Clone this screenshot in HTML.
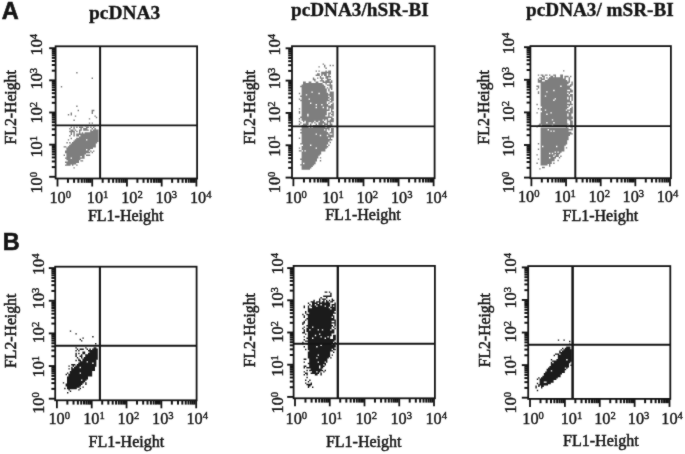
<!DOCTYPE html>
<html><head><meta charset="utf-8"><style>html,body{margin:0;padding:0;background:#fff;}svg{display:block;}</style></head>
<body><svg width="685" height="454" viewBox="0 0 685 454"><style>.t{font-family:'Liberation Serif','Times New Roman',serif;font-size:16.3px;fill:#151515;stroke:#151515;stroke-width:0.4px}
.a{font-family:'Liberation Serif','Times New Roman',serif;font-size:16px;fill:#151515;stroke:#151515;stroke-width:0.5px}
.h{font-family:'Liberation Serif','Times New Roman',serif;font-size:19px;font-weight:bold;fill:#151515;stroke:#151515;stroke-width:0.35px}
.L{font-family:'Liberation Sans',Arial,sans-serif;font-size:23.5px;font-weight:bold;fill:#151515;stroke:#151515;stroke-width:0.6px}</style><defs><filter id="soft" color-interpolation-filters="sRGB" filterUnits="userSpaceOnUse" x="0" y="0" width="685" height="454"><feConvolveMatrix order="3" kernelMatrix="1 2 1 2 24 2 1 2 1" divisor="36" edgeMode="duplicate"/></filter></defs><g filter="url(#soft)"><rect width="685" height="454" fill="#fff"/><path d="M76.2 72h1.4v1.4h-1.4zM91.6 77.6h1.4v1.4h-1.4zM60.8 86h1.4v1.4h-1.4zM76.2 105.6h1.4v1.4h-1.4zM77.6 109.8h1.4v1.4h-1.4zM91.6 109.8h2.8v1.4h-2.8zM91.6 111.2h1.4v1.4h-1.4zM70.6 112.6h1.4v1.4h-1.4zM91.6 112.6h1.4v1.4h-1.4zM67.8 114h1.4v1.4h-1.4zM70.6 114h1.4v1.4h-1.4zM74.8 115.4h1.4v1.4h-1.4zM94.4 115.4h1.4v1.4h-1.4zM95.8 116.8h1.4v1.4h-1.4zM88.8 118.2h1.4v1.4h-1.4zM73.4 119.6h1.4v1.4h-1.4zM88.8 122.4h1.4v1.4h-1.4zM91.6 122.4h1.4v1.4h-1.4zM84.6 125.2h1.4v1.4h-1.4zM94.4 125.2h1.4v1.4h-1.4zM70.6 126.6h1.4v1.4h-1.4zM73.4 126.6h1.4v1.4h-1.4zM76.2 126.6h1.4v1.4h-1.4zM79 126.6h4.2v1.4h-4.2zM86 126.6h2.8v1.4h-2.8zM90.2 126.6h1.4v1.4h-1.4zM93 126.6h1.4v1.4h-1.4zM69.2 128h1.4v1.4h-1.4zM73.4 128h1.4v1.4h-1.4zM80.4 128h1.4v1.4h-1.4zM83.2 128h4.2v1.4h-4.2zM91.6 128h1.4v1.4h-1.4zM94.4 128h1.4v1.4h-1.4zM70.6 129.4h2.8v1.4h-2.8zM74.8 129.4h1.4v1.4h-1.4zM79 129.4h2.8v1.4h-2.8zM83.2 129.4h5.6v1.4h-5.6zM90.2 129.4h1.4v1.4h-1.4zM93 129.4h5.6v1.4h-5.6zM69.2 130.8h5.6v1.4h-5.6zM76.2 130.8h1.4v1.4h-1.4zM79 130.8h1.4v1.4h-1.4zM90.2 130.8h8.4v1.4h-8.4zM70.6 132.2h1.4v1.4h-1.4zM73.4 132.2h1.4v1.4h-1.4zM79 132.2h1.4v1.4h-1.4zM81.8 132.2h1.4v1.4h-1.4zM84.6 132.2h14v1.4h-14zM70.6 133.6h1.4v1.4h-1.4zM73.4 133.6h1.4v1.4h-1.4zM76.2 133.6h22.4v1.4h-22.4zM69.2 135h1.4v1.4h-1.4zM73.4 135h1.4v1.4h-1.4zM76.2 135h2.8v1.4h-2.8zM80.4 135h18.2v1.4h-18.2zM79 136.4h19.6v1.4h-19.6zM70.6 137.8h1.4v1.4h-1.4zM76.2 137.8h22.4v1.4h-22.4zM67.8 139.2h1.4v1.4h-1.4zM74.8 139.2h11.2v1.4h-11.2zM87.4 139.2h11.2v1.4h-11.2zM73.4 140.6h25.2v1.4h-25.2zM66.4 142h1.4v1.4h-1.4zM69.2 142h1.4v1.4h-1.4zM72 142h25.2v1.4h-25.2zM70.6 143.4h25.2v1.4h-25.2zM69.2 144.8h26.6v1.4h-26.6zM63.6 146.2h2.8v1.4h-2.8zM67.8 146.2h28v1.4h-28zM66.4 147.6h26.6v1.4h-26.6zM66.4 149h19.6v1.4h-19.6zM87.4 149h2.8v1.4h-2.8zM65 150.4h23.8v1.4h-23.8zM90.2 150.4h1.4v1.4h-1.4zM93 150.4h1.4v1.4h-1.4zM65 151.8h25.2v1.4h-25.2zM91.6 151.8h1.4v1.4h-1.4zM66.4 153.2h19.6v1.4h-19.6zM63.6 154.6h1.4v1.4h-1.4zM66.4 154.6h18.2v1.4h-18.2zM86 154.6h4.2v1.4h-4.2zM66.4 156h14v1.4h-14zM81.8 156h2.8v1.4h-2.8zM65 157.4h5.6v1.4h-5.6zM72 157.4h12.6v1.4h-12.6zM66.4 158.8h14v1.4h-14zM67.8 160.2h11.2v1.4h-11.2zM80.4 160.2h2.8v1.4h-2.8zM65 161.6h14v1.4h-14zM66.4 163h9.8v1.4h-9.8zM65 164.4h5.6v1.4h-5.6zM72 164.4h1.4v1.4h-1.4zM76.2 164.4h1.4v1.4h-1.4zM73.4 167.2h1.4v1.4h-1.4z" fill="#7e7e7e" /><path d="M322.6 63.4h1.4v1.4h-1.4zM324 64.8h1.4v1.4h-1.4zM329.6 64.8h1.4v1.4h-1.4zM332.4 64.8h1.4v1.4h-1.4zM318.4 66.2h1.4v1.4h-1.4zM324 66.2h1.4v1.4h-1.4zM325.4 67.6h1.4v1.4h-1.4zM315.6 70.4h1.4v1.4h-1.4zM318.4 70.4h1.4v1.4h-1.4zM325.4 70.4h1.4v1.4h-1.4zM328.2 70.4h2.8v1.4h-2.8zM321.2 71.8h9.8v1.4h-9.8zM317 73.2h2.8v1.4h-2.8zM321.2 73.2h5.6v1.4h-5.6zM328.2 73.2h2.8v1.4h-2.8zM315.6 74.6h4.2v1.4h-4.2zM321.2 74.6h1.4v1.4h-1.4zM324 74.6h2.8v1.4h-2.8zM328.2 74.6h1.4v1.4h-1.4zM319.8 76h1.4v1.4h-1.4zM325.4 76h5.6v1.4h-5.6zM312.8 77.4h1.4v1.4h-1.4zM317 77.4h1.4v1.4h-1.4zM319.8 77.4h4.2v1.4h-4.2zM325.4 77.4h2.8v1.4h-2.8zM312.8 78.8h2.8v1.4h-2.8zM321.2 78.8h1.4v1.4h-1.4zM326.8 78.8h4.2v1.4h-4.2zM314.2 80.2h1.4v1.4h-1.4zM319.8 80.2h4.2v1.4h-4.2zM325.4 80.2h4.2v1.4h-4.2zM331 80.2h1.4v1.4h-1.4zM303 81.6h2.8v1.4h-2.8zM308.6 81.6h2.8v1.4h-2.8zM315.6 81.6h2.8v1.4h-2.8zM322.6 81.6h9.8v1.4h-9.8zM303 83h19.6v1.4h-19.6zM325.4 83h1.4v1.4h-1.4zM329.6 83h1.4v1.4h-1.4zM301.6 84.4h22.4v1.4h-22.4zM326.8 84.4h5.6v1.4h-5.6zM300.2 85.8h25.2v1.4h-25.2zM329.6 85.8h2.8v1.4h-2.8zM301.6 87.2h23.8v1.4h-23.8zM326.8 87.2h1.4v1.4h-1.4zM329.6 87.2h2.8v1.4h-2.8zM301.6 88.6h25.2v1.4h-25.2zM328.2 88.6h1.4v1.4h-1.4zM331 88.6h1.4v1.4h-1.4zM301.6 90h25.2v1.4h-25.2zM328.2 90h1.4v1.4h-1.4zM301.6 91.4h9.8v1.4h-9.8zM312.8 91.4h14v1.4h-14zM329.6 91.4h4.2v1.4h-4.2zM298.8 92.8h1.4v1.4h-1.4zM301.6 92.8h16.8v1.4h-16.8zM319.8 92.8h8.4v1.4h-8.4zM329.6 92.8h4.2v1.4h-4.2zM301.6 94.2h4.2v1.4h-4.2zM307.2 94.2h26.6v1.4h-26.6zM300.2 95.6h28v1.4h-28zM329.6 95.6h4.2v1.4h-4.2zM301.6 97h28v1.4h-28zM331 97h2.8v1.4h-2.8zM298.8 98.4h1.4v1.4h-1.4zM301.6 98.4h7v1.4h-7zM310 98.4h18.2v1.4h-18.2zM329.6 98.4h4.2v1.4h-4.2zM300.2 99.8h29.4v1.4h-29.4zM331 99.8h2.8v1.4h-2.8zM301.6 101.2h25.2v1.4h-25.2zM329.6 101.2h2.8v1.4h-2.8zM301.6 102.6h8.4v1.4h-8.4zM311.4 102.6h15.4v1.4h-15.4zM328.2 102.6h1.4v1.4h-1.4zM332.4 102.6h1.4v1.4h-1.4zM301.6 104h14v1.4h-14zM317 104h4.2v1.4h-4.2zM322.6 104h5.6v1.4h-5.6zM331 104h2.8v1.4h-2.8zM301.6 105.4h32.2v1.4h-32.2zM301.6 106.8h14v1.4h-14zM317 106.8h5.6v1.4h-5.6zM324 106.8h2.8v1.4h-2.8zM328.2 106.8h5.6v1.4h-5.6zM298.8 108.2h1.4v1.4h-1.4zM301.6 108.2h25.2v1.4h-25.2zM328.2 108.2h1.4v1.4h-1.4zM331 108.2h2.8v1.4h-2.8zM301.6 109.6h28v1.4h-28zM331 109.6h1.4v1.4h-1.4zM298.8 111h1.4v1.4h-1.4zM301.6 111h25.2v1.4h-25.2zM331 111h2.8v1.4h-2.8zM298.8 112.4h1.4v1.4h-1.4zM301.6 112.4h25.2v1.4h-25.2zM328.2 112.4h2.8v1.4h-2.8zM332.4 112.4h1.4v1.4h-1.4zM301.6 113.8h5.6v1.4h-5.6zM308.6 113.8h18.2v1.4h-18.2zM328.2 113.8h1.4v1.4h-1.4zM331 113.8h2.8v1.4h-2.8zM301.6 115.2h5.6v1.4h-5.6zM308.6 115.2h16.8v1.4h-16.8zM328.2 115.2h1.4v1.4h-1.4zM332.4 115.2h1.4v1.4h-1.4zM300.2 116.6h32.2v1.4h-32.2zM298.8 118h1.4v1.4h-1.4zM301.6 118h26.6v1.4h-26.6zM331 118h2.8v1.4h-2.8zM301.6 119.4h21v1.4h-21zM324 119.4h1.4v1.4h-1.4zM326.8 119.4h1.4v1.4h-1.4zM329.6 119.4h4.2v1.4h-4.2zM298.8 120.8h1.4v1.4h-1.4zM303 120.8h1.4v1.4h-1.4zM305.8 120.8h8.4v1.4h-8.4zM315.6 120.8h2.8v1.4h-2.8zM319.8 120.8h4.2v1.4h-4.2zM326.8 120.8h7v1.4h-7zM300.2 122.2h1.4v1.4h-1.4zM305.8 122.2h2.8v1.4h-2.8zM311.4 122.2h1.4v1.4h-1.4zM314.2 122.2h1.4v1.4h-1.4zM318.4 122.2h7v1.4h-7zM326.8 122.2h1.4v1.4h-1.4zM329.6 122.2h1.4v1.4h-1.4zM298.8 123.6h1.4v1.4h-1.4zM303 123.6h5.6v1.4h-5.6zM310 123.6h1.4v1.4h-1.4zM315.6 123.6h1.4v1.4h-1.4zM318.4 123.6h4.2v1.4h-4.2zM324 123.6h4.2v1.4h-4.2zM329.6 123.6h2.8v1.4h-2.8zM301.6 125h5.6v1.4h-5.6zM310 125h1.4v1.4h-1.4zM312.8 125h12.6v1.4h-12.6zM326.8 125h5.6v1.4h-5.6zM301.6 126.4h7v1.4h-7zM310 126.4h1.4v1.4h-1.4zM312.8 126.4h12.6v1.4h-12.6zM326.8 126.4h4.2v1.4h-4.2zM301.6 127.8h28v1.4h-28zM331 127.8h2.8v1.4h-2.8zM300.2 129.2h23.8v1.4h-23.8zM325.4 129.2h1.4v1.4h-1.4zM328.2 129.2h1.4v1.4h-1.4zM331 129.2h2.8v1.4h-2.8zM301.6 130.6h25.2v1.4h-25.2zM331 130.6h2.8v1.4h-2.8zM300.2 132h28v1.4h-28zM329.6 132h4.2v1.4h-4.2zM301.6 133.4h14v1.4h-14zM317 133.4h12.6v1.4h-12.6zM332.4 133.4h1.4v1.4h-1.4zM301.6 134.8h18.2v1.4h-18.2zM321.2 134.8h5.6v1.4h-5.6zM328.2 134.8h5.6v1.4h-5.6zM301.6 136.2h32.2v1.4h-32.2zM298.8 137.6h1.4v1.4h-1.4zM301.6 137.6h26.6v1.4h-26.6zM329.6 137.6h1.4v1.4h-1.4zM301.6 139h30.8v1.4h-30.8zM301.6 140.4h28v1.4h-28zM301.6 141.8h26.6v1.4h-26.6zM329.6 141.8h1.4v1.4h-1.4zM300.2 143.2h28v1.4h-28zM303 144.6h7v1.4h-7zM311.4 144.6h15.4v1.4h-15.4zM328.2 144.6h1.4v1.4h-1.4zM301.6 146h26.6v1.4h-26.6zM298.8 147.4h1.4v1.4h-1.4zM301.6 147.4h14v1.4h-14zM317 147.4h9.8v1.4h-9.8zM301.6 148.8h23.8v1.4h-23.8zM298.8 150.2h2.8v1.4h-2.8zM303 150.2h1.4v1.4h-1.4zM305.8 150.2h19.6v1.4h-19.6zM301.6 151.6h19.6v1.4h-19.6zM301.6 153h19.6v1.4h-19.6zM301.6 154.4h18.2v1.4h-18.2zM301.6 155.8h16.8v1.4h-16.8zM301.6 157.2h16.8v1.4h-16.8zM319.8 157.2h1.4v1.4h-1.4zM300.2 158.6h16.8v1.4h-16.8zM301.6 160h15.4v1.4h-15.4zM319.8 160h1.4v1.4h-1.4zM301.6 161.4h14v1.4h-14zM301.6 162.8h1.4v1.4h-1.4zM304.4 162.8h11.2v1.4h-11.2zM300.2 164.2h14v1.4h-14zM301.6 165.6h11.2v1.4h-11.2zM301.6 167h9.8v1.4h-9.8zM301.6 168.4h8.4v1.4h-8.4z" fill="#7e7e7e" /><path d="M563 70.2h1.4v1.4h-1.4zM537.8 74.4h1.4v1.4h-1.4zM540.6 74.4h2.8v1.4h-2.8zM544.8 74.4h2.8v1.4h-2.8zM549 74.4h1.4v1.4h-1.4zM553.2 74.4h2.8v1.4h-2.8zM560.2 74.4h2.8v1.4h-2.8zM542 75.8h2.8v1.4h-2.8zM550.4 75.8h2.8v1.4h-2.8zM554.6 75.8h1.4v1.4h-1.4zM560.2 75.8h2.8v1.4h-2.8zM564.4 75.8h4.2v1.4h-4.2zM570 75.8h1.4v1.4h-1.4zM539.2 77.2h2.8v1.4h-2.8zM543.4 77.2h1.4v1.4h-1.4zM546.2 77.2h1.4v1.4h-1.4zM549 77.2h14v1.4h-14zM564.4 77.2h1.4v1.4h-1.4zM568.6 77.2h1.4v1.4h-1.4zM537.8 78.6h1.4v1.4h-1.4zM540.6 78.6h4.2v1.4h-4.2zM547.6 78.6h18.2v1.4h-18.2zM568.6 78.6h1.4v1.4h-1.4zM537.8 80h4.2v1.4h-4.2zM544.8 80h22.4v1.4h-22.4zM568.6 80h1.4v1.4h-1.4zM537.8 81.4h32.2v1.4h-32.2zM571.4 81.4h1.4v1.4h-1.4zM540.6 82.8h28v1.4h-28zM571.4 82.8h1.4v1.4h-1.4zM540.6 84.2h26.6v1.4h-26.6zM570 84.2h2.8v1.4h-2.8zM536.4 85.6h2.8v1.4h-2.8zM540.6 85.6h19.6v1.4h-19.6zM561.6 85.6h9.8v1.4h-9.8zM537.8 87h1.4v1.4h-1.4zM540.6 87h29.4v1.4h-29.4zM536.4 88.4h1.4v1.4h-1.4zM540.6 88.4h30.8v1.4h-30.8zM540.6 89.8h12.6v1.4h-12.6zM554.6 89.8h12.6v1.4h-12.6zM570 89.8h2.8v1.4h-2.8zM537.8 91.2h1.4v1.4h-1.4zM540.6 91.2h5.6v1.4h-5.6zM547.6 91.2h25.2v1.4h-25.2zM537.8 92.6h1.4v1.4h-1.4zM540.6 92.6h26.6v1.4h-26.6zM568.6 92.6h1.4v1.4h-1.4zM540.6 94h28v1.4h-28zM570 94h2.8v1.4h-2.8zM540.6 95.4h4.2v1.4h-4.2zM546.2 95.4h26.6v1.4h-26.6zM540.6 96.8h26.6v1.4h-26.6zM568.6 96.8h1.4v1.4h-1.4zM571.4 96.8h1.4v1.4h-1.4zM540.6 98.2h14v1.4h-14zM556 98.2h11.2v1.4h-11.2zM568.6 98.2h1.4v1.4h-1.4zM571.4 98.2h1.4v1.4h-1.4zM540.6 99.6h12.6v1.4h-12.6zM554.6 99.6h15.4v1.4h-15.4zM571.4 99.6h1.4v1.4h-1.4zM540.6 101h30.8v1.4h-30.8zM540.6 102.4h26.6v1.4h-26.6zM570 102.4h1.4v1.4h-1.4zM536.4 103.8h1.4v1.4h-1.4zM540.6 103.8h32.2v1.4h-32.2zM540.6 105.2h26.6v1.4h-26.6zM568.6 105.2h1.4v1.4h-1.4zM542 106.6h26.6v1.4h-26.6zM571.4 106.6h1.4v1.4h-1.4zM537.8 108h1.4v1.4h-1.4zM540.6 108h26.6v1.4h-26.6zM570 108h2.8v1.4h-2.8zM540.6 109.4h4.2v1.4h-4.2zM546.2 109.4h19.6v1.4h-19.6zM567.2 109.4h5.6v1.4h-5.6zM542 110.8h26.6v1.4h-26.6zM570 110.8h2.8v1.4h-2.8zM536.4 112.2h1.4v1.4h-1.4zM540.6 112.2h9.8v1.4h-9.8zM551.8 112.2h21v1.4h-21zM540.6 113.6h5.6v1.4h-5.6zM547.6 113.6h19.6v1.4h-19.6zM568.6 113.6h2.8v1.4h-2.8zM540.6 115h26.6v1.4h-26.6zM568.6 115h2.8v1.4h-2.8zM540.6 116.4h32.2v1.4h-32.2zM540.6 117.8h32.2v1.4h-32.2zM540.6 119.2h11.2v1.4h-11.2zM553.2 119.2h14v1.4h-14zM568.6 119.2h2.8v1.4h-2.8zM540.6 120.6h26.6v1.4h-26.6zM570 120.6h2.8v1.4h-2.8zM540.6 122h5.6v1.4h-5.6zM547.6 122h5.6v1.4h-5.6zM554.6 122h12.6v1.4h-12.6zM570 122h2.8v1.4h-2.8zM539.2 123.4h29.4v1.4h-29.4zM570 123.4h2.8v1.4h-2.8zM537.8 124.8h2.8v1.4h-2.8zM542 124.8h9.8v1.4h-9.8zM553.2 124.8h14v1.4h-14zM568.6 124.8h4.2v1.4h-4.2zM536.4 126.2h1.4v1.4h-1.4zM565.8 126.2h1.4v1.4h-1.4zM570 126.2h2.8v1.4h-2.8zM540.6 127.6h28v1.4h-28zM571.4 127.6h1.4v1.4h-1.4zM540.6 129h7v1.4h-7zM549 129h23.8v1.4h-23.8zM540.6 130.4h9.8v1.4h-9.8zM551.8 130.4h1.4v1.4h-1.4zM554.6 130.4h14v1.4h-14zM540.6 131.8h30.8v1.4h-30.8zM540.6 133.2h32.2v1.4h-32.2zM540.6 134.6h29.4v1.4h-29.4zM540.6 136h28v1.4h-28zM540.6 137.4h28v1.4h-28zM540.6 138.8h28v1.4h-28zM540.6 140.2h26.6v1.4h-26.6zM540.6 141.6h26.6v1.4h-26.6zM537.8 143h1.4v1.4h-1.4zM540.6 143h26.6v1.4h-26.6zM540.6 144.4h25.2v1.4h-25.2zM540.6 145.8h1.4v1.4h-1.4zM543.4 145.8h12.6v1.4h-12.6zM557.4 145.8h7v1.4h-7zM540.6 147.2h23.8v1.4h-23.8zM565.8 147.2h1.4v1.4h-1.4zM537.8 148.6h1.4v1.4h-1.4zM540.6 148.6h23.8v1.4h-23.8zM540.6 150h23.8v1.4h-23.8zM540.6 151.4h14v1.4h-14zM556 151.4h1.4v1.4h-1.4zM558.8 151.4h2.8v1.4h-2.8zM540.6 152.8h8.4v1.4h-8.4zM550.4 152.8h1.4v1.4h-1.4zM553.2 152.8h7v1.4h-7zM536.4 154.2h1.4v1.4h-1.4zM540.6 154.2h14v1.4h-14zM556 154.2h2.8v1.4h-2.8zM540.6 155.6h12.6v1.4h-12.6zM554.6 155.6h4.2v1.4h-4.2zM560.2 155.6h1.4v1.4h-1.4zM540.6 157h8.4v1.4h-8.4zM550.4 157h5.6v1.4h-5.6zM558.8 157h1.4v1.4h-1.4zM537.8 158.4h1.4v1.4h-1.4zM540.6 158.4h14v1.4h-14zM540.6 159.8h14v1.4h-14zM557.4 159.8h1.4v1.4h-1.4zM540.6 161.2h11.2v1.4h-11.2zM536.4 162.6h1.4v1.4h-1.4zM540.6 162.6h11.2v1.4h-11.2zM553.2 162.6h1.4v1.4h-1.4zM540.6 164h7v1.4h-7zM549 164h1.4v1.4h-1.4zM549 165.4h1.4v1.4h-1.4zM542 166.8h2.8v1.4h-2.8zM539.2 168.2h1.4v1.4h-1.4z" fill="#7e7e7e" /><path d="M69.8 330.4h1.4v1.4h-1.4zM75.4 333.2h1.4v1.4h-1.4zM92.2 336h1.4v1.4h-1.4zM82.4 337.4h1.4v1.4h-1.4zM79.6 338.8h1.4v1.4h-1.4zM81 340.2h1.4v1.4h-1.4zM95 343h1.4v1.4h-1.4zM75.4 347.2h1.4v1.4h-1.4zM85.2 347.2h1.4v1.4h-1.4zM93.6 347.2h2.8v1.4h-2.8zM76.8 348.6h1.4v1.4h-1.4zM79.6 348.6h4.2v1.4h-4.2zM86.6 348.6h1.4v1.4h-1.4zM89.4 348.6h1.4v1.4h-1.4zM92.2 348.6h5.6v1.4h-5.6zM75.4 350h1.4v1.4h-1.4zM78.2 350h1.4v1.4h-1.4zM88 350h9.8v1.4h-9.8zM82.4 351.4h2.8v1.4h-2.8zM89.4 351.4h8.4v1.4h-8.4zM75.4 352.8h1.4v1.4h-1.4zM78.2 352.8h1.4v1.4h-1.4zM82.4 352.8h2.8v1.4h-2.8zM88 352.8h9.8v1.4h-9.8zM75.4 354.2h1.4v1.4h-1.4zM81 354.2h1.4v1.4h-1.4zM85.2 354.2h12.6v1.4h-12.6zM75.4 355.6h1.4v1.4h-1.4zM79.6 355.6h2.8v1.4h-2.8zM85.2 355.6h12.6v1.4h-12.6zM76.8 357h1.4v1.4h-1.4zM81 357h1.4v1.4h-1.4zM83.8 357h14v1.4h-14zM78.2 358.4h1.4v1.4h-1.4zM82.4 358.4h15.4v1.4h-15.4zM75.4 359.8h1.4v1.4h-1.4zM78.2 359.8h2.8v1.4h-2.8zM82.4 359.8h14v1.4h-14zM79.6 361.2h7v1.4h-7zM88 361.2h8.4v1.4h-8.4zM78.2 362.6h14v1.4h-14zM93.6 362.6h2.8v1.4h-2.8zM71.2 364h4.2v1.4h-4.2zM76.8 364h19.6v1.4h-19.6zM68.4 365.4h1.4v1.4h-1.4zM72.6 365.4h1.4v1.4h-1.4zM75.4 365.4h21v1.4h-21zM71.2 366.8h1.4v1.4h-1.4zM74 366.8h5.6v1.4h-5.6zM81 366.8h14v1.4h-14zM68.4 368.2h1.4v1.4h-1.4zM71.2 368.2h23.8v1.4h-23.8zM71.2 369.6h23.8v1.4h-23.8zM69.8 371h22.4v1.4h-22.4zM67 372.4h1.4v1.4h-1.4zM69.8 372.4h9.8v1.4h-9.8zM81 372.4h11.2v1.4h-11.2zM65.6 373.8h1.4v1.4h-1.4zM68.4 373.8h23.8v1.4h-23.8zM68.4 375.2h23.8v1.4h-23.8zM67 376.6h21v1.4h-21zM67 378h21v1.4h-21zM67 379.4h14v1.4h-14zM82.4 379.4h4.2v1.4h-4.2zM67 380.8h18.2v1.4h-18.2zM62.8 382.2h1.4v1.4h-1.4zM67 382.2h16.8v1.4h-16.8zM85.2 382.2h1.4v1.4h-1.4zM65.6 383.6h16.8v1.4h-16.8zM85.2 383.6h1.4v1.4h-1.4zM65.6 385h15.4v1.4h-15.4zM67 386.4h12.6v1.4h-12.6zM82.4 386.4h1.4v1.4h-1.4zM64.2 387.8h1.4v1.4h-1.4zM67 387.8h9.8v1.4h-9.8zM79.6 387.8h1.4v1.4h-1.4zM68.4 389.2h1.4v1.4h-1.4zM78.2 389.2h1.4v1.4h-1.4zM69.8 390.6h1.4v1.4h-1.4zM67 392h1.4v1.4h-1.4z" fill="#1b1b1b" /><path d="M324.6 291.4h2.8v1.4h-2.8zM328.8 291.4h1.4v1.4h-1.4zM330.2 292.8h1.4v1.4h-1.4zM330.2 294.2h1.4v1.4h-1.4zM323.2 295.6h8.4v1.4h-8.4zM320.4 297h1.4v1.4h-1.4zM326 297h1.4v1.4h-1.4zM319 298.4h1.4v1.4h-1.4zM321.8 298.4h4.2v1.4h-4.2zM331.6 298.4h1.4v1.4h-1.4zM313.4 299.8h1.4v1.4h-1.4zM319 299.8h1.4v1.4h-1.4zM323.2 299.8h1.4v1.4h-1.4zM326 299.8h1.4v1.4h-1.4zM328.8 299.8h1.4v1.4h-1.4zM331.6 299.8h2.8v1.4h-2.8zM310.6 301.2h4.2v1.4h-4.2zM316.2 301.2h4.2v1.4h-4.2zM321.8 301.2h2.8v1.4h-2.8zM326 301.2h2.8v1.4h-2.8zM330.2 301.2h2.8v1.4h-2.8zM307.8 302.6h1.4v1.4h-1.4zM312 302.6h5.6v1.4h-5.6zM319 302.6h11.2v1.4h-11.2zM334.4 302.6h1.4v1.4h-1.4zM309.2 304h1.4v1.4h-1.4zM312 304h2.8v1.4h-2.8zM316.2 304h4.2v1.4h-4.2zM321.8 304h8.4v1.4h-8.4zM331.6 304h4.2v1.4h-4.2zM303.6 305.4h1.4v1.4h-1.4zM307.8 305.4h1.4v1.4h-1.4zM310.6 305.4h5.6v1.4h-5.6zM317.6 305.4h7v1.4h-7zM326 305.4h4.2v1.4h-4.2zM331.6 305.4h1.4v1.4h-1.4zM334.4 305.4h1.4v1.4h-1.4zM303.6 306.8h1.4v1.4h-1.4zM307.8 306.8h1.4v1.4h-1.4zM312 306.8h16.8v1.4h-16.8zM330.2 306.8h5.6v1.4h-5.6zM307.8 308.2h22.4v1.4h-22.4zM331.6 308.2h4.2v1.4h-4.2zM307.8 309.6h28v1.4h-28zM305 311h1.4v1.4h-1.4zM307.8 311h26.6v1.4h-26.6zM305 312.4h1.4v1.4h-1.4zM309.2 312.4h26.6v1.4h-26.6zM302.2 313.8h1.4v1.4h-1.4zM306.4 313.8h26.6v1.4h-26.6zM303.6 315.2h1.4v1.4h-1.4zM307.8 315.2h26.6v1.4h-26.6zM303.6 316.6h1.4v1.4h-1.4zM307.8 316.6h23.8v1.4h-23.8zM333 316.6h1.4v1.4h-1.4zM306.4 318h28v1.4h-28zM305 319.4h1.4v1.4h-1.4zM307.8 319.4h28v1.4h-28zM303.6 320.8h1.4v1.4h-1.4zM307.8 320.8h23.8v1.4h-23.8zM334.4 320.8h1.4v1.4h-1.4zM302.2 322.2h2.8v1.4h-2.8zM307.8 322.2h28v1.4h-28zM302.2 323.6h1.4v1.4h-1.4zM307.8 323.6h23.8v1.4h-23.8zM334.4 323.6h1.4v1.4h-1.4zM306.4 325h26.6v1.4h-26.6zM334.4 325h1.4v1.4h-1.4zM303.6 326.4h1.4v1.4h-1.4zM307.8 326.4h4.2v1.4h-4.2zM313.4 326.4h18.2v1.4h-18.2zM333 326.4h1.4v1.4h-1.4zM302.2 327.8h1.4v1.4h-1.4zM306.4 327.8h25.2v1.4h-25.2zM334.4 327.8h1.4v1.4h-1.4zM303.6 329.2h1.4v1.4h-1.4zM306.4 329.2h2.8v1.4h-2.8zM310.6 329.2h7v1.4h-7zM319 329.2h2.8v1.4h-2.8zM323.2 329.2h7v1.4h-7zM331.6 329.2h2.8v1.4h-2.8zM303.6 330.6h1.4v1.4h-1.4zM306.4 330.6h28v1.4h-28zM302.2 332h2.8v1.4h-2.8zM307.8 332h26.6v1.4h-26.6zM305 333.4h1.4v1.4h-1.4zM307.8 333.4h11.2v1.4h-11.2zM320.4 333.4h11.2v1.4h-11.2zM307.8 334.8h7v1.4h-7zM316.2 334.8h15.4v1.4h-15.4zM333 334.8h2.8v1.4h-2.8zM303.6 336.2h1.4v1.4h-1.4zM307.8 336.2h12.6v1.4h-12.6zM321.8 336.2h5.6v1.4h-5.6zM328.8 336.2h1.4v1.4h-1.4zM333 336.2h2.8v1.4h-2.8zM306.4 337.6h5.6v1.4h-5.6zM313.4 337.6h11.2v1.4h-11.2zM326 337.6h4.2v1.4h-4.2zM333 337.6h2.8v1.4h-2.8zM303.6 339h1.4v1.4h-1.4zM307.8 339h28v1.4h-28zM305 340.4h29.4v1.4h-29.4zM302.2 341.8h1.4v1.4h-1.4zM307.8 341.8h25.2v1.4h-25.2zM334.4 341.8h1.4v1.4h-1.4zM302.2 343.2h1.4v1.4h-1.4zM306.4 343.2h25.2v1.4h-25.2zM333 343.2h1.4v1.4h-1.4zM307.8 344.6h12.6v1.4h-12.6zM321.8 344.6h14v1.4h-14zM303.6 346h1.4v1.4h-1.4zM307.8 346h8.4v1.4h-8.4zM317.6 346h18.2v1.4h-18.2zM307.8 347.4h26.6v1.4h-26.6zM305 348.8h1.4v1.4h-1.4zM307.8 348.8h23.8v1.4h-23.8zM333 348.8h2.8v1.4h-2.8zM309.2 350.2h23.8v1.4h-23.8zM307.8 351.6h22.4v1.4h-22.4zM333 351.6h1.4v1.4h-1.4zM307.8 353h22.4v1.4h-22.4zM307.8 354.4h9.8v1.4h-9.8zM319 354.4h11.2v1.4h-11.2zM331.6 354.4h1.4v1.4h-1.4zM307.8 355.8h22.4v1.4h-22.4zM307.8 357.2h8.4v1.4h-8.4zM317.6 357.2h11.2v1.4h-11.2zM330.2 357.2h1.4v1.4h-1.4zM303.6 358.6h2.8v1.4h-2.8zM309.2 358.6h18.2v1.4h-18.2zM309.2 360h18.2v1.4h-18.2zM303.6 361.4h1.4v1.4h-1.4zM309.2 361.4h8.4v1.4h-8.4zM319 361.4h5.6v1.4h-5.6zM326 361.4h1.4v1.4h-1.4zM307.8 362.8h18.2v1.4h-18.2zM309.2 364.2h14v1.4h-14zM324.6 364.2h1.4v1.4h-1.4zM303.6 365.6h2.8v1.4h-2.8zM309.2 365.6h9.8v1.4h-9.8zM320.4 365.6h4.2v1.4h-4.2zM303.6 367h1.4v1.4h-1.4zM306.4 367h12.6v1.4h-12.6zM320.4 367h2.8v1.4h-2.8zM310.6 368.4h11.2v1.4h-11.2zM306.4 369.8h1.4v1.4h-1.4zM309.2 369.8h14v1.4h-14zM324.6 369.8h1.4v1.4h-1.4zM303.6 371.2h1.4v1.4h-1.4zM312 371.2h4.2v1.4h-4.2zM317.6 371.2h2.8v1.4h-2.8zM323.2 371.2h1.4v1.4h-1.4zM305 372.6h2.8v1.4h-2.8zM310.6 372.6h8.4v1.4h-8.4zM320.4 372.6h1.4v1.4h-1.4zM303.6 374h1.4v1.4h-1.4zM306.4 374h1.4v1.4h-1.4zM314.8 374h2.8v1.4h-2.8zM320.4 374h1.4v1.4h-1.4zM306.4 376.8h1.4v1.4h-1.4zM305 379.6h1.4v1.4h-1.4zM309.2 379.6h1.4v1.4h-1.4zM307.8 381h1.4v1.4h-1.4zM305 382.4h1.4v1.4h-1.4zM310.6 382.4h1.4v1.4h-1.4zM306.4 383.8h5.6v1.4h-5.6zM307.8 385.2h2.8v1.4h-2.8zM307.8 386.6h1.4v1.4h-1.4zM312 386.6h1.4v1.4h-1.4z" fill="#1b1b1b" /><path d="M557.8 339.4h1.4v1.4h-1.4zM563.4 339.4h1.4v1.4h-1.4zM569 340.8h1.4v1.4h-1.4zM569 343.6h1.4v1.4h-1.4zM566.2 346.4h4.2v1.4h-4.2zM562 347.8h1.4v1.4h-1.4zM564.8 347.8h5.6v1.4h-5.6zM560.6 349.2h1.4v1.4h-1.4zM563.4 349.2h8.4v1.4h-8.4zM559.2 350.6h1.4v1.4h-1.4zM562 350.6h9.8v1.4h-9.8zM559.2 352h12.6v1.4h-12.6zM555 353.4h4.2v1.4h-4.2zM560.6 353.4h11.2v1.4h-11.2zM553.6 354.8h1.4v1.4h-1.4zM557.8 354.8h14v1.4h-14zM557.8 356.2h14v1.4h-14zM557.8 357.6h14v1.4h-14zM550.8 359h1.4v1.4h-1.4zM556.4 359h9.8v1.4h-9.8zM567.6 359h4.2v1.4h-4.2zM552.2 360.4h19.6v1.4h-19.6zM550.8 361.8h1.4v1.4h-1.4zM553.6 361.8h16.8v1.4h-16.8zM550.8 363.2h18.2v1.4h-18.2zM550.8 364.6h18.2v1.4h-18.2zM570.4 364.6h1.4v1.4h-1.4zM549.4 366h19.6v1.4h-19.6zM548 367.4h16.8v1.4h-16.8zM566.2 367.4h1.4v1.4h-1.4zM546.6 368.8h19.6v1.4h-19.6zM546.6 370.2h4.2v1.4h-4.2zM552.2 370.2h12.6v1.4h-12.6zM545.2 371.6h19.6v1.4h-19.6zM543.8 373h18.2v1.4h-18.2zM543.8 374.4h16.8v1.4h-16.8zM542.4 375.8h18.2v1.4h-18.2zM538.2 377.2h1.4v1.4h-1.4zM541 377.2h16.8v1.4h-16.8zM536.8 378.6h1.4v1.4h-1.4zM539.6 378.6h16.8v1.4h-16.8zM539.6 380h14v1.4h-14zM539.6 381.4h4.2v1.4h-4.2zM546.6 381.4h7v1.4h-7zM536.8 382.8h1.4v1.4h-1.4zM539.6 382.8h11.2v1.4h-11.2zM538.2 384.2h9.8v1.4h-9.8zM535.4 385.6h1.4v1.4h-1.4zM538.2 385.6h1.4v1.4h-1.4zM541 385.6h2.8v1.4h-2.8zM535.4 387h1.4v1.4h-1.4zM541 387h1.4v1.4h-1.4zM536.8 389.8h1.4v1.4h-1.4z" fill="#1b1b1b" /><line x1="67.95" y1="178.50" x2="67.95" y2="182.80" stroke="#151515" stroke-width="2.0"/><line x1="74.07" y1="178.50" x2="74.07" y2="182.80" stroke="#151515" stroke-width="2.0"/><line x1="78.41" y1="178.50" x2="78.41" y2="182.80" stroke="#151515" stroke-width="2.0"/><line x1="81.77" y1="178.50" x2="81.77" y2="182.80" stroke="#151515" stroke-width="2.0"/><line x1="84.52" y1="178.50" x2="84.52" y2="182.80" stroke="#151515" stroke-width="2.0"/><line x1="86.85" y1="178.50" x2="86.85" y2="182.80" stroke="#151515" stroke-width="2.0"/><line x1="88.86" y1="178.50" x2="88.86" y2="182.80" stroke="#151515" stroke-width="2.0"/><line x1="90.64" y1="178.50" x2="90.64" y2="182.80" stroke="#151515" stroke-width="2.0"/><line x1="102.68" y1="178.50" x2="102.68" y2="182.80" stroke="#151515" stroke-width="2.0"/><line x1="108.79" y1="178.50" x2="108.79" y2="182.80" stroke="#151515" stroke-width="2.0"/><line x1="113.13" y1="178.50" x2="113.13" y2="182.80" stroke="#151515" stroke-width="2.0"/><line x1="116.50" y1="178.50" x2="116.50" y2="182.80" stroke="#151515" stroke-width="2.0"/><line x1="119.25" y1="178.50" x2="119.25" y2="182.80" stroke="#151515" stroke-width="2.0"/><line x1="121.57" y1="178.50" x2="121.57" y2="182.80" stroke="#151515" stroke-width="2.0"/><line x1="123.58" y1="178.50" x2="123.58" y2="182.80" stroke="#151515" stroke-width="2.0"/><line x1="125.36" y1="178.50" x2="125.36" y2="182.80" stroke="#151515" stroke-width="2.0"/><line x1="137.40" y1="178.50" x2="137.40" y2="182.80" stroke="#151515" stroke-width="2.0"/><line x1="143.52" y1="178.50" x2="143.52" y2="182.80" stroke="#151515" stroke-width="2.0"/><line x1="147.86" y1="178.50" x2="147.86" y2="182.80" stroke="#151515" stroke-width="2.0"/><line x1="151.22" y1="178.50" x2="151.22" y2="182.80" stroke="#151515" stroke-width="2.0"/><line x1="153.97" y1="178.50" x2="153.97" y2="182.80" stroke="#151515" stroke-width="2.0"/><line x1="156.30" y1="178.50" x2="156.30" y2="182.80" stroke="#151515" stroke-width="2.0"/><line x1="158.31" y1="178.50" x2="158.31" y2="182.80" stroke="#151515" stroke-width="2.0"/><line x1="160.09" y1="178.50" x2="160.09" y2="182.80" stroke="#151515" stroke-width="2.0"/><line x1="172.13" y1="178.50" x2="172.13" y2="182.80" stroke="#151515" stroke-width="2.0"/><line x1="178.24" y1="178.50" x2="178.24" y2="182.80" stroke="#151515" stroke-width="2.0"/><line x1="182.58" y1="178.50" x2="182.58" y2="182.80" stroke="#151515" stroke-width="2.0"/><line x1="185.95" y1="178.50" x2="185.95" y2="182.80" stroke="#151515" stroke-width="2.0"/><line x1="188.70" y1="178.50" x2="188.70" y2="182.80" stroke="#151515" stroke-width="2.0"/><line x1="191.02" y1="178.50" x2="191.02" y2="182.80" stroke="#151515" stroke-width="2.0"/><line x1="193.03" y1="178.50" x2="193.03" y2="182.80" stroke="#151515" stroke-width="2.0"/><line x1="194.81" y1="178.50" x2="194.81" y2="182.80" stroke="#151515" stroke-width="2.0"/><line x1="57.50" y1="178.50" x2="57.50" y2="186.50" stroke="#151515" stroke-width="1.8"/><line x1="92.22" y1="178.50" x2="92.22" y2="186.50" stroke="#151515" stroke-width="1.8"/><line x1="126.95" y1="178.50" x2="126.95" y2="186.50" stroke="#151515" stroke-width="1.8"/><line x1="161.68" y1="178.50" x2="161.68" y2="186.50" stroke="#151515" stroke-width="1.8"/><line x1="196.40" y1="178.50" x2="196.40" y2="186.50" stroke="#151515" stroke-width="1.8"/><line x1="55.60" y1="167.12" x2="51.80" y2="167.12" stroke="#151515" stroke-width="2.0"/><line x1="55.60" y1="161.46" x2="51.80" y2="161.46" stroke="#151515" stroke-width="2.0"/><line x1="55.60" y1="157.44" x2="51.80" y2="157.44" stroke="#151515" stroke-width="2.0"/><line x1="55.60" y1="154.33" x2="51.80" y2="154.33" stroke="#151515" stroke-width="2.0"/><line x1="55.60" y1="151.78" x2="51.80" y2="151.78" stroke="#151515" stroke-width="2.0"/><line x1="55.60" y1="149.63" x2="51.80" y2="149.63" stroke="#151515" stroke-width="2.0"/><line x1="55.60" y1="147.77" x2="51.80" y2="147.77" stroke="#151515" stroke-width="2.0"/><line x1="55.60" y1="146.12" x2="51.80" y2="146.12" stroke="#151515" stroke-width="2.0"/><line x1="55.60" y1="134.97" x2="51.80" y2="134.97" stroke="#151515" stroke-width="2.0"/><line x1="55.60" y1="129.31" x2="51.80" y2="129.31" stroke="#151515" stroke-width="2.0"/><line x1="55.60" y1="125.29" x2="51.80" y2="125.29" stroke="#151515" stroke-width="2.0"/><line x1="55.60" y1="122.18" x2="51.80" y2="122.18" stroke="#151515" stroke-width="2.0"/><line x1="55.60" y1="119.63" x2="51.80" y2="119.63" stroke="#151515" stroke-width="2.0"/><line x1="55.60" y1="117.48" x2="51.80" y2="117.48" stroke="#151515" stroke-width="2.0"/><line x1="55.60" y1="115.62" x2="51.80" y2="115.62" stroke="#151515" stroke-width="2.0"/><line x1="55.60" y1="113.97" x2="51.80" y2="113.97" stroke="#151515" stroke-width="2.0"/><line x1="55.60" y1="102.82" x2="51.80" y2="102.82" stroke="#151515" stroke-width="2.0"/><line x1="55.60" y1="97.16" x2="51.80" y2="97.16" stroke="#151515" stroke-width="2.0"/><line x1="55.60" y1="93.14" x2="51.80" y2="93.14" stroke="#151515" stroke-width="2.0"/><line x1="55.60" y1="90.03" x2="51.80" y2="90.03" stroke="#151515" stroke-width="2.0"/><line x1="55.60" y1="87.48" x2="51.80" y2="87.48" stroke="#151515" stroke-width="2.0"/><line x1="55.60" y1="85.33" x2="51.80" y2="85.33" stroke="#151515" stroke-width="2.0"/><line x1="55.60" y1="83.47" x2="51.80" y2="83.47" stroke="#151515" stroke-width="2.0"/><line x1="55.60" y1="81.82" x2="51.80" y2="81.82" stroke="#151515" stroke-width="2.0"/><line x1="55.60" y1="70.67" x2="51.80" y2="70.67" stroke="#151515" stroke-width="2.0"/><line x1="55.60" y1="65.01" x2="51.80" y2="65.01" stroke="#151515" stroke-width="2.0"/><line x1="55.60" y1="60.99" x2="51.80" y2="60.99" stroke="#151515" stroke-width="2.0"/><line x1="55.60" y1="57.88" x2="51.80" y2="57.88" stroke="#151515" stroke-width="2.0"/><line x1="55.60" y1="55.33" x2="51.80" y2="55.33" stroke="#151515" stroke-width="2.0"/><line x1="55.60" y1="53.18" x2="51.80" y2="53.18" stroke="#151515" stroke-width="2.0"/><line x1="55.60" y1="51.32" x2="51.80" y2="51.32" stroke="#151515" stroke-width="2.0"/><line x1="55.60" y1="49.67" x2="51.80" y2="49.67" stroke="#151515" stroke-width="2.0"/><line x1="55.60" y1="176.80" x2="49.20" y2="176.80" stroke="#151515" stroke-width="1.9"/><line x1="55.60" y1="144.65" x2="49.20" y2="144.65" stroke="#151515" stroke-width="1.9"/><line x1="55.60" y1="112.50" x2="49.20" y2="112.50" stroke="#151515" stroke-width="1.9"/><line x1="55.60" y1="80.35" x2="49.20" y2="80.35" stroke="#151515" stroke-width="1.9"/><line x1="55.60" y1="48.20" x2="49.20" y2="48.20" stroke="#151515" stroke-width="1.9"/><rect x="55.60" y="46.30" width="141.50" height="132.20" fill="none" stroke="#151515" stroke-width="1.8"/><line x1="100.10" y1="46.30" x2="100.10" y2="178.50" stroke="#151515" stroke-width="2.0"/><line x1="55.60" y1="125.40" x2="197.10" y2="125.40" stroke="#151515" stroke-width="1.7"/><text x="49.48" y="203.00" class="t">10<tspan font-size="10.6" dy="-5.0">0</tspan></text><text x="86.78" y="203.00" class="t">10<tspan font-size="10.6" dy="-5.0">1</tspan></text><text x="121.14" y="203.00" class="t">10<tspan font-size="10.6" dy="-5.0">2</tspan></text><text x="155.51" y="203.00" class="t">10<tspan font-size="10.6" dy="-5.0">3</tspan></text><text x="189.88" y="203.00" class="t">10<tspan font-size="10.6" dy="-5.0">4</tspan></text><text transform="translate(41.60,193.62) rotate(-90)" class="t">10<tspan font-size="10.6" dy="-5.0">0</tspan></text><text transform="translate(41.60,157.53) rotate(-90)" class="t">10<tspan font-size="10.6" dy="-5.0">1</tspan></text><text transform="translate(41.60,123.51) rotate(-90)" class="t">10<tspan font-size="10.6" dy="-5.0">2</tspan></text><text transform="translate(41.60,89.49) rotate(-90)" class="t">10<tspan font-size="10.6" dy="-5.0">3</tspan></text><text transform="translate(41.60,55.48) rotate(-90)" class="t">10<tspan font-size="10.6" dy="-5.0">4</tspan></text><text x="87.90" y="220.60" class="a" textLength="75.6" lengthAdjust="spacingAndGlyphs">FL1-Height</text><text transform="translate(15.90,144.40) rotate(-90)" class="a" textLength="74.2" lengthAdjust="spacingAndGlyphs">FL2-Height</text><line x1="303.95" y1="178.20" x2="303.95" y2="182.50" stroke="#151515" stroke-width="2.0"/><line x1="310.12" y1="178.20" x2="310.12" y2="182.50" stroke="#151515" stroke-width="2.0"/><line x1="314.50" y1="178.20" x2="314.50" y2="182.50" stroke="#151515" stroke-width="2.0"/><line x1="317.90" y1="178.20" x2="317.90" y2="182.50" stroke="#151515" stroke-width="2.0"/><line x1="320.67" y1="178.20" x2="320.67" y2="182.50" stroke="#151515" stroke-width="2.0"/><line x1="323.02" y1="178.20" x2="323.02" y2="182.50" stroke="#151515" stroke-width="2.0"/><line x1="325.05" y1="178.20" x2="325.05" y2="182.50" stroke="#151515" stroke-width="2.0"/><line x1="326.85" y1="178.20" x2="326.85" y2="182.50" stroke="#151515" stroke-width="2.0"/><line x1="339.00" y1="178.20" x2="339.00" y2="182.50" stroke="#151515" stroke-width="2.0"/><line x1="345.17" y1="178.20" x2="345.17" y2="182.50" stroke="#151515" stroke-width="2.0"/><line x1="349.55" y1="178.20" x2="349.55" y2="182.50" stroke="#151515" stroke-width="2.0"/><line x1="352.95" y1="178.20" x2="352.95" y2="182.50" stroke="#151515" stroke-width="2.0"/><line x1="355.72" y1="178.20" x2="355.72" y2="182.50" stroke="#151515" stroke-width="2.0"/><line x1="358.07" y1="178.20" x2="358.07" y2="182.50" stroke="#151515" stroke-width="2.0"/><line x1="360.10" y1="178.20" x2="360.10" y2="182.50" stroke="#151515" stroke-width="2.0"/><line x1="361.90" y1="178.20" x2="361.90" y2="182.50" stroke="#151515" stroke-width="2.0"/><line x1="374.05" y1="178.20" x2="374.05" y2="182.50" stroke="#151515" stroke-width="2.0"/><line x1="380.22" y1="178.20" x2="380.22" y2="182.50" stroke="#151515" stroke-width="2.0"/><line x1="384.60" y1="178.20" x2="384.60" y2="182.50" stroke="#151515" stroke-width="2.0"/><line x1="388.00" y1="178.20" x2="388.00" y2="182.50" stroke="#151515" stroke-width="2.0"/><line x1="390.77" y1="178.20" x2="390.77" y2="182.50" stroke="#151515" stroke-width="2.0"/><line x1="393.12" y1="178.20" x2="393.12" y2="182.50" stroke="#151515" stroke-width="2.0"/><line x1="395.15" y1="178.20" x2="395.15" y2="182.50" stroke="#151515" stroke-width="2.0"/><line x1="396.95" y1="178.20" x2="396.95" y2="182.50" stroke="#151515" stroke-width="2.0"/><line x1="409.10" y1="178.20" x2="409.10" y2="182.50" stroke="#151515" stroke-width="2.0"/><line x1="415.27" y1="178.20" x2="415.27" y2="182.50" stroke="#151515" stroke-width="2.0"/><line x1="419.65" y1="178.20" x2="419.65" y2="182.50" stroke="#151515" stroke-width="2.0"/><line x1="423.05" y1="178.20" x2="423.05" y2="182.50" stroke="#151515" stroke-width="2.0"/><line x1="425.82" y1="178.20" x2="425.82" y2="182.50" stroke="#151515" stroke-width="2.0"/><line x1="428.17" y1="178.20" x2="428.17" y2="182.50" stroke="#151515" stroke-width="2.0"/><line x1="430.20" y1="178.20" x2="430.20" y2="182.50" stroke="#151515" stroke-width="2.0"/><line x1="432.00" y1="178.20" x2="432.00" y2="182.50" stroke="#151515" stroke-width="2.0"/><line x1="293.40" y1="178.20" x2="293.40" y2="186.20" stroke="#151515" stroke-width="1.8"/><line x1="328.45" y1="178.20" x2="328.45" y2="186.20" stroke="#151515" stroke-width="1.8"/><line x1="363.50" y1="178.20" x2="363.50" y2="186.20" stroke="#151515" stroke-width="1.8"/><line x1="398.55" y1="178.20" x2="398.55" y2="186.20" stroke="#151515" stroke-width="1.8"/><line x1="433.60" y1="178.20" x2="433.60" y2="186.20" stroke="#151515" stroke-width="1.8"/><line x1="292.00" y1="167.87" x2="288.20" y2="167.87" stroke="#151515" stroke-width="2.0"/><line x1="292.00" y1="162.18" x2="288.20" y2="162.18" stroke="#151515" stroke-width="2.0"/><line x1="292.00" y1="158.14" x2="288.20" y2="158.14" stroke="#151515" stroke-width="2.0"/><line x1="292.00" y1="155.01" x2="288.20" y2="155.01" stroke="#151515" stroke-width="2.0"/><line x1="292.00" y1="152.45" x2="288.20" y2="152.45" stroke="#151515" stroke-width="2.0"/><line x1="292.00" y1="150.28" x2="288.20" y2="150.28" stroke="#151515" stroke-width="2.0"/><line x1="292.00" y1="148.41" x2="288.20" y2="148.41" stroke="#151515" stroke-width="2.0"/><line x1="292.00" y1="146.75" x2="288.20" y2="146.75" stroke="#151515" stroke-width="2.0"/><line x1="292.00" y1="135.54" x2="288.20" y2="135.54" stroke="#151515" stroke-width="2.0"/><line x1="292.00" y1="129.85" x2="288.20" y2="129.85" stroke="#151515" stroke-width="2.0"/><line x1="292.00" y1="125.81" x2="288.20" y2="125.81" stroke="#151515" stroke-width="2.0"/><line x1="292.00" y1="122.68" x2="288.20" y2="122.68" stroke="#151515" stroke-width="2.0"/><line x1="292.00" y1="120.12" x2="288.20" y2="120.12" stroke="#151515" stroke-width="2.0"/><line x1="292.00" y1="117.96" x2="288.20" y2="117.96" stroke="#151515" stroke-width="2.0"/><line x1="292.00" y1="116.08" x2="288.20" y2="116.08" stroke="#151515" stroke-width="2.0"/><line x1="292.00" y1="114.43" x2="288.20" y2="114.43" stroke="#151515" stroke-width="2.0"/><line x1="292.00" y1="103.22" x2="288.20" y2="103.22" stroke="#151515" stroke-width="2.0"/><line x1="292.00" y1="97.53" x2="288.20" y2="97.53" stroke="#151515" stroke-width="2.0"/><line x1="292.00" y1="93.49" x2="288.20" y2="93.49" stroke="#151515" stroke-width="2.0"/><line x1="292.00" y1="90.36" x2="288.20" y2="90.36" stroke="#151515" stroke-width="2.0"/><line x1="292.00" y1="87.80" x2="288.20" y2="87.80" stroke="#151515" stroke-width="2.0"/><line x1="292.00" y1="85.63" x2="288.20" y2="85.63" stroke="#151515" stroke-width="2.0"/><line x1="292.00" y1="83.76" x2="288.20" y2="83.76" stroke="#151515" stroke-width="2.0"/><line x1="292.00" y1="82.10" x2="288.20" y2="82.10" stroke="#151515" stroke-width="2.0"/><line x1="292.00" y1="70.89" x2="288.20" y2="70.89" stroke="#151515" stroke-width="2.0"/><line x1="292.00" y1="65.20" x2="288.20" y2="65.20" stroke="#151515" stroke-width="2.0"/><line x1="292.00" y1="61.16" x2="288.20" y2="61.16" stroke="#151515" stroke-width="2.0"/><line x1="292.00" y1="58.03" x2="288.20" y2="58.03" stroke="#151515" stroke-width="2.0"/><line x1="292.00" y1="55.47" x2="288.20" y2="55.47" stroke="#151515" stroke-width="2.0"/><line x1="292.00" y1="53.31" x2="288.20" y2="53.31" stroke="#151515" stroke-width="2.0"/><line x1="292.00" y1="51.43" x2="288.20" y2="51.43" stroke="#151515" stroke-width="2.0"/><line x1="292.00" y1="49.78" x2="288.20" y2="49.78" stroke="#151515" stroke-width="2.0"/><line x1="292.00" y1="177.60" x2="285.60" y2="177.60" stroke="#151515" stroke-width="1.9"/><line x1="292.00" y1="145.27" x2="285.60" y2="145.27" stroke="#151515" stroke-width="1.9"/><line x1="292.00" y1="112.95" x2="285.60" y2="112.95" stroke="#151515" stroke-width="1.9"/><line x1="292.00" y1="80.62" x2="285.60" y2="80.62" stroke="#151515" stroke-width="1.9"/><line x1="292.00" y1="48.30" x2="285.60" y2="48.30" stroke="#151515" stroke-width="1.9"/><rect x="292.00" y="46.20" width="142.60" height="132.00" fill="none" stroke="#151515" stroke-width="1.8"/><line x1="337.40" y1="46.20" x2="337.40" y2="178.20" stroke="#151515" stroke-width="2.0"/><line x1="292.00" y1="126.40" x2="434.60" y2="126.40" stroke="#151515" stroke-width="1.7"/><text x="285.27" y="202.80" class="t">10<tspan font-size="10.6" dy="-5.0">0</tspan></text><text x="322.17" y="202.80" class="t">10<tspan font-size="10.6" dy="-5.0">1</tspan></text><text x="356.57" y="202.80" class="t">10<tspan font-size="10.6" dy="-5.0">2</tspan></text><text x="390.97" y="202.80" class="t">10<tspan font-size="10.6" dy="-5.0">3</tspan></text><text x="425.38" y="202.80" class="t">10<tspan font-size="10.6" dy="-5.0">4</tspan></text><text transform="translate(280.20,193.22) rotate(-90)" class="t">10<tspan font-size="10.6" dy="-5.0">0</tspan></text><text transform="translate(280.20,156.72) rotate(-90)" class="t">10<tspan font-size="10.6" dy="-5.0">1</tspan></text><text transform="translate(280.20,122.96) rotate(-90)" class="t">10<tspan font-size="10.6" dy="-5.0">2</tspan></text><text transform="translate(280.20,89.19) rotate(-90)" class="t">10<tspan font-size="10.6" dy="-5.0">3</tspan></text><text transform="translate(280.20,55.43) rotate(-90)" class="t">10<tspan font-size="10.6" dy="-5.0">4</tspan></text><text x="325.20" y="220.30" class="a" textLength="75.6" lengthAdjust="spacingAndGlyphs">FL1-Height</text><text transform="translate(254.90,144.40) rotate(-90)" class="a" textLength="74.2" lengthAdjust="spacingAndGlyphs">FL2-Height</text><line x1="541.83" y1="178.20" x2="541.83" y2="182.50" stroke="#151515" stroke-width="2.0"/><line x1="547.93" y1="178.20" x2="547.93" y2="182.50" stroke="#151515" stroke-width="2.0"/><line x1="552.26" y1="178.20" x2="552.26" y2="182.50" stroke="#151515" stroke-width="2.0"/><line x1="555.62" y1="178.20" x2="555.62" y2="182.50" stroke="#151515" stroke-width="2.0"/><line x1="558.36" y1="178.20" x2="558.36" y2="182.50" stroke="#151515" stroke-width="2.0"/><line x1="560.68" y1="178.20" x2="560.68" y2="182.50" stroke="#151515" stroke-width="2.0"/><line x1="562.69" y1="178.20" x2="562.69" y2="182.50" stroke="#151515" stroke-width="2.0"/><line x1="564.46" y1="178.20" x2="564.46" y2="182.50" stroke="#151515" stroke-width="2.0"/><line x1="576.48" y1="178.20" x2="576.48" y2="182.50" stroke="#151515" stroke-width="2.0"/><line x1="582.58" y1="178.20" x2="582.58" y2="182.50" stroke="#151515" stroke-width="2.0"/><line x1="586.91" y1="178.20" x2="586.91" y2="182.50" stroke="#151515" stroke-width="2.0"/><line x1="590.27" y1="178.20" x2="590.27" y2="182.50" stroke="#151515" stroke-width="2.0"/><line x1="593.01" y1="178.20" x2="593.01" y2="182.50" stroke="#151515" stroke-width="2.0"/><line x1="595.33" y1="178.20" x2="595.33" y2="182.50" stroke="#151515" stroke-width="2.0"/><line x1="597.34" y1="178.20" x2="597.34" y2="182.50" stroke="#151515" stroke-width="2.0"/><line x1="599.11" y1="178.20" x2="599.11" y2="182.50" stroke="#151515" stroke-width="2.0"/><line x1="611.13" y1="178.20" x2="611.13" y2="182.50" stroke="#151515" stroke-width="2.0"/><line x1="617.23" y1="178.20" x2="617.23" y2="182.50" stroke="#151515" stroke-width="2.0"/><line x1="621.56" y1="178.20" x2="621.56" y2="182.50" stroke="#151515" stroke-width="2.0"/><line x1="624.92" y1="178.20" x2="624.92" y2="182.50" stroke="#151515" stroke-width="2.0"/><line x1="627.66" y1="178.20" x2="627.66" y2="182.50" stroke="#151515" stroke-width="2.0"/><line x1="629.98" y1="178.20" x2="629.98" y2="182.50" stroke="#151515" stroke-width="2.0"/><line x1="631.99" y1="178.20" x2="631.99" y2="182.50" stroke="#151515" stroke-width="2.0"/><line x1="633.76" y1="178.20" x2="633.76" y2="182.50" stroke="#151515" stroke-width="2.0"/><line x1="645.78" y1="178.20" x2="645.78" y2="182.50" stroke="#151515" stroke-width="2.0"/><line x1="651.88" y1="178.20" x2="651.88" y2="182.50" stroke="#151515" stroke-width="2.0"/><line x1="656.21" y1="178.20" x2="656.21" y2="182.50" stroke="#151515" stroke-width="2.0"/><line x1="659.57" y1="178.20" x2="659.57" y2="182.50" stroke="#151515" stroke-width="2.0"/><line x1="662.31" y1="178.20" x2="662.31" y2="182.50" stroke="#151515" stroke-width="2.0"/><line x1="664.63" y1="178.20" x2="664.63" y2="182.50" stroke="#151515" stroke-width="2.0"/><line x1="666.64" y1="178.20" x2="666.64" y2="182.50" stroke="#151515" stroke-width="2.0"/><line x1="668.41" y1="178.20" x2="668.41" y2="182.50" stroke="#151515" stroke-width="2.0"/><line x1="531.40" y1="178.20" x2="531.40" y2="186.20" stroke="#151515" stroke-width="1.8"/><line x1="566.05" y1="178.20" x2="566.05" y2="186.20" stroke="#151515" stroke-width="1.8"/><line x1="600.70" y1="178.20" x2="600.70" y2="186.20" stroke="#151515" stroke-width="1.8"/><line x1="635.35" y1="178.20" x2="635.35" y2="186.20" stroke="#151515" stroke-width="1.8"/><line x1="670.00" y1="178.20" x2="670.00" y2="186.20" stroke="#151515" stroke-width="1.8"/><line x1="530.40" y1="167.79" x2="526.60" y2="167.79" stroke="#151515" stroke-width="2.0"/><line x1="530.40" y1="162.05" x2="526.60" y2="162.05" stroke="#151515" stroke-width="2.0"/><line x1="530.40" y1="157.97" x2="526.60" y2="157.97" stroke="#151515" stroke-width="2.0"/><line x1="530.40" y1="154.81" x2="526.60" y2="154.81" stroke="#151515" stroke-width="2.0"/><line x1="530.40" y1="152.23" x2="526.60" y2="152.23" stroke="#151515" stroke-width="2.0"/><line x1="530.40" y1="150.05" x2="526.60" y2="150.05" stroke="#151515" stroke-width="2.0"/><line x1="530.40" y1="148.16" x2="526.60" y2="148.16" stroke="#151515" stroke-width="2.0"/><line x1="530.40" y1="146.49" x2="526.60" y2="146.49" stroke="#151515" stroke-width="2.0"/><line x1="530.40" y1="135.19" x2="526.60" y2="135.19" stroke="#151515" stroke-width="2.0"/><line x1="530.40" y1="129.45" x2="526.60" y2="129.45" stroke="#151515" stroke-width="2.0"/><line x1="530.40" y1="125.37" x2="526.60" y2="125.37" stroke="#151515" stroke-width="2.0"/><line x1="530.40" y1="122.21" x2="526.60" y2="122.21" stroke="#151515" stroke-width="2.0"/><line x1="530.40" y1="119.63" x2="526.60" y2="119.63" stroke="#151515" stroke-width="2.0"/><line x1="530.40" y1="117.45" x2="526.60" y2="117.45" stroke="#151515" stroke-width="2.0"/><line x1="530.40" y1="115.56" x2="526.60" y2="115.56" stroke="#151515" stroke-width="2.0"/><line x1="530.40" y1="113.89" x2="526.60" y2="113.89" stroke="#151515" stroke-width="2.0"/><line x1="530.40" y1="102.59" x2="526.60" y2="102.59" stroke="#151515" stroke-width="2.0"/><line x1="530.40" y1="96.85" x2="526.60" y2="96.85" stroke="#151515" stroke-width="2.0"/><line x1="530.40" y1="92.77" x2="526.60" y2="92.77" stroke="#151515" stroke-width="2.0"/><line x1="530.40" y1="89.61" x2="526.60" y2="89.61" stroke="#151515" stroke-width="2.0"/><line x1="530.40" y1="87.03" x2="526.60" y2="87.03" stroke="#151515" stroke-width="2.0"/><line x1="530.40" y1="84.85" x2="526.60" y2="84.85" stroke="#151515" stroke-width="2.0"/><line x1="530.40" y1="82.96" x2="526.60" y2="82.96" stroke="#151515" stroke-width="2.0"/><line x1="530.40" y1="81.29" x2="526.60" y2="81.29" stroke="#151515" stroke-width="2.0"/><line x1="530.40" y1="69.99" x2="526.60" y2="69.99" stroke="#151515" stroke-width="2.0"/><line x1="530.40" y1="64.25" x2="526.60" y2="64.25" stroke="#151515" stroke-width="2.0"/><line x1="530.40" y1="60.17" x2="526.60" y2="60.17" stroke="#151515" stroke-width="2.0"/><line x1="530.40" y1="57.01" x2="526.60" y2="57.01" stroke="#151515" stroke-width="2.0"/><line x1="530.40" y1="54.43" x2="526.60" y2="54.43" stroke="#151515" stroke-width="2.0"/><line x1="530.40" y1="52.25" x2="526.60" y2="52.25" stroke="#151515" stroke-width="2.0"/><line x1="530.40" y1="50.36" x2="526.60" y2="50.36" stroke="#151515" stroke-width="2.0"/><line x1="530.40" y1="48.69" x2="526.60" y2="48.69" stroke="#151515" stroke-width="2.0"/><line x1="530.40" y1="177.60" x2="524.00" y2="177.60" stroke="#151515" stroke-width="1.9"/><line x1="530.40" y1="145.00" x2="524.00" y2="145.00" stroke="#151515" stroke-width="1.9"/><line x1="530.40" y1="112.40" x2="524.00" y2="112.40" stroke="#151515" stroke-width="1.9"/><line x1="530.40" y1="79.80" x2="524.00" y2="79.80" stroke="#151515" stroke-width="1.9"/><line x1="530.40" y1="47.20" x2="524.00" y2="47.20" stroke="#151515" stroke-width="1.9"/><rect x="530.40" y="46.10" width="140.50" height="132.10" fill="none" stroke="#151515" stroke-width="1.8"/><line x1="575.30" y1="46.10" x2="575.30" y2="178.20" stroke="#151515" stroke-width="2.0"/><line x1="530.40" y1="126.10" x2="670.90" y2="126.10" stroke="#151515" stroke-width="1.7"/><text x="517.98" y="202.30" class="t">10<tspan font-size="10.6" dy="-5.0">0</tspan></text><text x="554.27" y="202.30" class="t">10<tspan font-size="10.6" dy="-5.0">1</tspan></text><text x="588.41" y="202.30" class="t">10<tspan font-size="10.6" dy="-5.0">2</tspan></text><text x="622.54" y="202.30" class="t">10<tspan font-size="10.6" dy="-5.0">3</tspan></text><text x="656.67" y="202.30" class="t">10<tspan font-size="10.6" dy="-5.0">4</tspan></text><text transform="translate(514.00,193.22) rotate(-90)" class="t">10<tspan font-size="10.6" dy="-5.0">0</tspan></text><text transform="translate(514.00,156.72) rotate(-90)" class="t">10<tspan font-size="10.6" dy="-5.0">1</tspan></text><text transform="translate(514.00,122.59) rotate(-90)" class="t">10<tspan font-size="10.6" dy="-5.0">2</tspan></text><text transform="translate(514.00,88.46) rotate(-90)" class="t">10<tspan font-size="10.6" dy="-5.0">3</tspan></text><text transform="translate(514.00,54.33) rotate(-90)" class="t">10<tspan font-size="10.6" dy="-5.0">4</tspan></text><text x="562.50" y="220.50" class="a" textLength="75.6" lengthAdjust="spacingAndGlyphs">FL1-Height</text><text transform="translate(489.00,144.40) rotate(-90)" class="a" textLength="74.2" lengthAdjust="spacingAndGlyphs">FL2-Height</text><line x1="67.38" y1="400.30" x2="67.38" y2="404.60" stroke="#151515" stroke-width="2.0"/><line x1="73.52" y1="400.30" x2="73.52" y2="404.60" stroke="#151515" stroke-width="2.0"/><line x1="77.87" y1="400.30" x2="77.87" y2="404.60" stroke="#151515" stroke-width="2.0"/><line x1="81.24" y1="400.30" x2="81.24" y2="404.60" stroke="#151515" stroke-width="2.0"/><line x1="84.00" y1="400.30" x2="84.00" y2="404.60" stroke="#151515" stroke-width="2.0"/><line x1="86.33" y1="400.30" x2="86.33" y2="404.60" stroke="#151515" stroke-width="2.0"/><line x1="88.35" y1="400.30" x2="88.35" y2="404.60" stroke="#151515" stroke-width="2.0"/><line x1="90.13" y1="400.30" x2="90.13" y2="404.60" stroke="#151515" stroke-width="2.0"/><line x1="102.21" y1="400.30" x2="102.21" y2="404.60" stroke="#151515" stroke-width="2.0"/><line x1="108.34" y1="400.30" x2="108.34" y2="404.60" stroke="#151515" stroke-width="2.0"/><line x1="112.69" y1="400.30" x2="112.69" y2="404.60" stroke="#151515" stroke-width="2.0"/><line x1="116.07" y1="400.30" x2="116.07" y2="404.60" stroke="#151515" stroke-width="2.0"/><line x1="118.82" y1="400.30" x2="118.82" y2="404.60" stroke="#151515" stroke-width="2.0"/><line x1="121.16" y1="400.30" x2="121.16" y2="404.60" stroke="#151515" stroke-width="2.0"/><line x1="123.18" y1="400.30" x2="123.18" y2="404.60" stroke="#151515" stroke-width="2.0"/><line x1="124.96" y1="400.30" x2="124.96" y2="404.60" stroke="#151515" stroke-width="2.0"/><line x1="137.03" y1="400.30" x2="137.03" y2="404.60" stroke="#151515" stroke-width="2.0"/><line x1="143.17" y1="400.30" x2="143.17" y2="404.60" stroke="#151515" stroke-width="2.0"/><line x1="147.52" y1="400.30" x2="147.52" y2="404.60" stroke="#151515" stroke-width="2.0"/><line x1="150.89" y1="400.30" x2="150.89" y2="404.60" stroke="#151515" stroke-width="2.0"/><line x1="153.65" y1="400.30" x2="153.65" y2="404.60" stroke="#151515" stroke-width="2.0"/><line x1="155.98" y1="400.30" x2="155.98" y2="404.60" stroke="#151515" stroke-width="2.0"/><line x1="158.00" y1="400.30" x2="158.00" y2="404.60" stroke="#151515" stroke-width="2.0"/><line x1="159.78" y1="400.30" x2="159.78" y2="404.60" stroke="#151515" stroke-width="2.0"/><line x1="171.86" y1="400.30" x2="171.86" y2="404.60" stroke="#151515" stroke-width="2.0"/><line x1="177.99" y1="400.30" x2="177.99" y2="404.60" stroke="#151515" stroke-width="2.0"/><line x1="182.34" y1="400.30" x2="182.34" y2="404.60" stroke="#151515" stroke-width="2.0"/><line x1="185.72" y1="400.30" x2="185.72" y2="404.60" stroke="#151515" stroke-width="2.0"/><line x1="188.47" y1="400.30" x2="188.47" y2="404.60" stroke="#151515" stroke-width="2.0"/><line x1="190.81" y1="400.30" x2="190.81" y2="404.60" stroke="#151515" stroke-width="2.0"/><line x1="192.83" y1="400.30" x2="192.83" y2="404.60" stroke="#151515" stroke-width="2.0"/><line x1="194.61" y1="400.30" x2="194.61" y2="404.60" stroke="#151515" stroke-width="2.0"/><line x1="56.90" y1="400.30" x2="56.90" y2="408.30" stroke="#151515" stroke-width="1.8"/><line x1="91.72" y1="400.30" x2="91.72" y2="408.30" stroke="#151515" stroke-width="1.8"/><line x1="126.55" y1="400.30" x2="126.55" y2="408.30" stroke="#151515" stroke-width="1.8"/><line x1="161.38" y1="400.30" x2="161.38" y2="408.30" stroke="#151515" stroke-width="1.8"/><line x1="196.20" y1="400.30" x2="196.20" y2="408.30" stroke="#151515" stroke-width="1.8"/><line x1="55.20" y1="388.87" x2="51.40" y2="388.87" stroke="#151515" stroke-width="2.0"/><line x1="55.20" y1="383.12" x2="51.40" y2="383.12" stroke="#151515" stroke-width="2.0"/><line x1="55.20" y1="379.04" x2="51.40" y2="379.04" stroke="#151515" stroke-width="2.0"/><line x1="55.20" y1="375.88" x2="51.40" y2="375.88" stroke="#151515" stroke-width="2.0"/><line x1="55.20" y1="373.29" x2="51.40" y2="373.29" stroke="#151515" stroke-width="2.0"/><line x1="55.20" y1="371.11" x2="51.40" y2="371.11" stroke="#151515" stroke-width="2.0"/><line x1="55.20" y1="369.21" x2="51.40" y2="369.21" stroke="#151515" stroke-width="2.0"/><line x1="55.20" y1="367.54" x2="51.40" y2="367.54" stroke="#151515" stroke-width="2.0"/><line x1="55.20" y1="356.22" x2="51.40" y2="356.22" stroke="#151515" stroke-width="2.0"/><line x1="55.20" y1="350.47" x2="51.40" y2="350.47" stroke="#151515" stroke-width="2.0"/><line x1="55.20" y1="346.39" x2="51.40" y2="346.39" stroke="#151515" stroke-width="2.0"/><line x1="55.20" y1="343.23" x2="51.40" y2="343.23" stroke="#151515" stroke-width="2.0"/><line x1="55.20" y1="340.64" x2="51.40" y2="340.64" stroke="#151515" stroke-width="2.0"/><line x1="55.20" y1="338.46" x2="51.40" y2="338.46" stroke="#151515" stroke-width="2.0"/><line x1="55.20" y1="336.56" x2="51.40" y2="336.56" stroke="#151515" stroke-width="2.0"/><line x1="55.20" y1="334.89" x2="51.40" y2="334.89" stroke="#151515" stroke-width="2.0"/><line x1="55.20" y1="323.57" x2="51.40" y2="323.57" stroke="#151515" stroke-width="2.0"/><line x1="55.20" y1="317.82" x2="51.40" y2="317.82" stroke="#151515" stroke-width="2.0"/><line x1="55.20" y1="313.74" x2="51.40" y2="313.74" stroke="#151515" stroke-width="2.0"/><line x1="55.20" y1="310.58" x2="51.40" y2="310.58" stroke="#151515" stroke-width="2.0"/><line x1="55.20" y1="307.99" x2="51.40" y2="307.99" stroke="#151515" stroke-width="2.0"/><line x1="55.20" y1="305.81" x2="51.40" y2="305.81" stroke="#151515" stroke-width="2.0"/><line x1="55.20" y1="303.91" x2="51.40" y2="303.91" stroke="#151515" stroke-width="2.0"/><line x1="55.20" y1="302.24" x2="51.40" y2="302.24" stroke="#151515" stroke-width="2.0"/><line x1="55.20" y1="290.92" x2="51.40" y2="290.92" stroke="#151515" stroke-width="2.0"/><line x1="55.20" y1="285.17" x2="51.40" y2="285.17" stroke="#151515" stroke-width="2.0"/><line x1="55.20" y1="281.09" x2="51.40" y2="281.09" stroke="#151515" stroke-width="2.0"/><line x1="55.20" y1="277.93" x2="51.40" y2="277.93" stroke="#151515" stroke-width="2.0"/><line x1="55.20" y1="275.34" x2="51.40" y2="275.34" stroke="#151515" stroke-width="2.0"/><line x1="55.20" y1="273.16" x2="51.40" y2="273.16" stroke="#151515" stroke-width="2.0"/><line x1="55.20" y1="271.26" x2="51.40" y2="271.26" stroke="#151515" stroke-width="2.0"/><line x1="55.20" y1="269.59" x2="51.40" y2="269.59" stroke="#151515" stroke-width="2.0"/><line x1="55.20" y1="398.70" x2="48.80" y2="398.70" stroke="#151515" stroke-width="1.9"/><line x1="55.20" y1="366.05" x2="48.80" y2="366.05" stroke="#151515" stroke-width="1.9"/><line x1="55.20" y1="333.40" x2="48.80" y2="333.40" stroke="#151515" stroke-width="1.9"/><line x1="55.20" y1="300.75" x2="48.80" y2="300.75" stroke="#151515" stroke-width="1.9"/><line x1="55.20" y1="268.10" x2="48.80" y2="268.10" stroke="#151515" stroke-width="1.9"/><rect x="55.20" y="266.70" width="141.40" height="133.60" fill="none" stroke="#151515" stroke-width="1.8"/><line x1="99.90" y1="266.70" x2="99.90" y2="400.30" stroke="#151515" stroke-width="2.1"/><line x1="55.20" y1="345.80" x2="196.60" y2="345.80" stroke="#151515" stroke-width="2.0"/><text x="48.48" y="423.80" class="t">10<tspan font-size="10.6" dy="-5.0">0</tspan></text><text x="83.18" y="423.80" class="t">10<tspan font-size="10.6" dy="-5.0">1</tspan></text><text x="117.61" y="423.80" class="t">10<tspan font-size="10.6" dy="-5.0">2</tspan></text><text x="152.04" y="423.80" class="t">10<tspan font-size="10.6" dy="-5.0">3</tspan></text><text x="186.47" y="423.80" class="t">10<tspan font-size="10.6" dy="-5.0">4</tspan></text><text transform="translate(44.10,413.83) rotate(-90)" class="t">10<tspan font-size="10.6" dy="-5.0">0</tspan></text><text transform="translate(44.10,377.43) rotate(-90)" class="t">10<tspan font-size="10.6" dy="-5.0">1</tspan></text><text transform="translate(44.10,343.29) rotate(-90)" class="t">10<tspan font-size="10.6" dy="-5.0">2</tspan></text><text transform="translate(44.10,309.16) rotate(-90)" class="t">10<tspan font-size="10.6" dy="-5.0">3</tspan></text><text transform="translate(44.10,275.03) rotate(-90)" class="t">10<tspan font-size="10.6" dy="-5.0">4</tspan></text><text x="88.60" y="447.40" class="a" textLength="75.6" lengthAdjust="spacingAndGlyphs">FL1-Height</text><text transform="translate(16.40,367.90) rotate(-90)" class="a" textLength="74.2" lengthAdjust="spacingAndGlyphs">FL2-Height</text><line x1="305.46" y1="398.30" x2="305.46" y2="402.60" stroke="#151515" stroke-width="2.0"/><line x1="311.58" y1="398.30" x2="311.58" y2="402.60" stroke="#151515" stroke-width="2.0"/><line x1="315.92" y1="398.30" x2="315.92" y2="402.60" stroke="#151515" stroke-width="2.0"/><line x1="319.29" y1="398.30" x2="319.29" y2="402.60" stroke="#151515" stroke-width="2.0"/><line x1="322.04" y1="398.30" x2="322.04" y2="402.60" stroke="#151515" stroke-width="2.0"/><line x1="324.37" y1="398.30" x2="324.37" y2="402.60" stroke="#151515" stroke-width="2.0"/><line x1="326.38" y1="398.30" x2="326.38" y2="402.60" stroke="#151515" stroke-width="2.0"/><line x1="328.16" y1="398.30" x2="328.16" y2="402.60" stroke="#151515" stroke-width="2.0"/><line x1="340.21" y1="398.30" x2="340.21" y2="402.60" stroke="#151515" stroke-width="2.0"/><line x1="346.33" y1="398.30" x2="346.33" y2="402.60" stroke="#151515" stroke-width="2.0"/><line x1="350.67" y1="398.30" x2="350.67" y2="402.60" stroke="#151515" stroke-width="2.0"/><line x1="354.04" y1="398.30" x2="354.04" y2="402.60" stroke="#151515" stroke-width="2.0"/><line x1="356.79" y1="398.30" x2="356.79" y2="402.60" stroke="#151515" stroke-width="2.0"/><line x1="359.12" y1="398.30" x2="359.12" y2="402.60" stroke="#151515" stroke-width="2.0"/><line x1="361.13" y1="398.30" x2="361.13" y2="402.60" stroke="#151515" stroke-width="2.0"/><line x1="362.91" y1="398.30" x2="362.91" y2="402.60" stroke="#151515" stroke-width="2.0"/><line x1="374.96" y1="398.30" x2="374.96" y2="402.60" stroke="#151515" stroke-width="2.0"/><line x1="381.08" y1="398.30" x2="381.08" y2="402.60" stroke="#151515" stroke-width="2.0"/><line x1="385.42" y1="398.30" x2="385.42" y2="402.60" stroke="#151515" stroke-width="2.0"/><line x1="388.79" y1="398.30" x2="388.79" y2="402.60" stroke="#151515" stroke-width="2.0"/><line x1="391.54" y1="398.30" x2="391.54" y2="402.60" stroke="#151515" stroke-width="2.0"/><line x1="393.87" y1="398.30" x2="393.87" y2="402.60" stroke="#151515" stroke-width="2.0"/><line x1="395.88" y1="398.30" x2="395.88" y2="402.60" stroke="#151515" stroke-width="2.0"/><line x1="397.66" y1="398.30" x2="397.66" y2="402.60" stroke="#151515" stroke-width="2.0"/><line x1="409.71" y1="398.30" x2="409.71" y2="402.60" stroke="#151515" stroke-width="2.0"/><line x1="415.83" y1="398.30" x2="415.83" y2="402.60" stroke="#151515" stroke-width="2.0"/><line x1="420.17" y1="398.30" x2="420.17" y2="402.60" stroke="#151515" stroke-width="2.0"/><line x1="423.54" y1="398.30" x2="423.54" y2="402.60" stroke="#151515" stroke-width="2.0"/><line x1="426.29" y1="398.30" x2="426.29" y2="402.60" stroke="#151515" stroke-width="2.0"/><line x1="428.62" y1="398.30" x2="428.62" y2="402.60" stroke="#151515" stroke-width="2.0"/><line x1="430.63" y1="398.30" x2="430.63" y2="402.60" stroke="#151515" stroke-width="2.0"/><line x1="432.41" y1="398.30" x2="432.41" y2="402.60" stroke="#151515" stroke-width="2.0"/><line x1="295.00" y1="398.30" x2="295.00" y2="406.30" stroke="#151515" stroke-width="1.8"/><line x1="329.75" y1="398.30" x2="329.75" y2="406.30" stroke="#151515" stroke-width="1.8"/><line x1="364.50" y1="398.30" x2="364.50" y2="406.30" stroke="#151515" stroke-width="1.8"/><line x1="399.25" y1="398.30" x2="399.25" y2="406.30" stroke="#151515" stroke-width="1.8"/><line x1="434.00" y1="398.30" x2="434.00" y2="406.30" stroke="#151515" stroke-width="1.8"/><line x1="293.60" y1="387.21" x2="289.80" y2="387.21" stroke="#151515" stroke-width="2.0"/><line x1="293.60" y1="381.54" x2="289.80" y2="381.54" stroke="#151515" stroke-width="2.0"/><line x1="293.60" y1="377.51" x2="289.80" y2="377.51" stroke="#151515" stroke-width="2.0"/><line x1="293.60" y1="374.39" x2="289.80" y2="374.39" stroke="#151515" stroke-width="2.0"/><line x1="293.60" y1="371.84" x2="289.80" y2="371.84" stroke="#151515" stroke-width="2.0"/><line x1="293.60" y1="369.69" x2="289.80" y2="369.69" stroke="#151515" stroke-width="2.0"/><line x1="293.60" y1="367.82" x2="289.80" y2="367.82" stroke="#151515" stroke-width="2.0"/><line x1="293.60" y1="366.17" x2="289.80" y2="366.17" stroke="#151515" stroke-width="2.0"/><line x1="293.60" y1="355.01" x2="289.80" y2="355.01" stroke="#151515" stroke-width="2.0"/><line x1="293.60" y1="349.34" x2="289.80" y2="349.34" stroke="#151515" stroke-width="2.0"/><line x1="293.60" y1="345.31" x2="289.80" y2="345.31" stroke="#151515" stroke-width="2.0"/><line x1="293.60" y1="342.19" x2="289.80" y2="342.19" stroke="#151515" stroke-width="2.0"/><line x1="293.60" y1="339.64" x2="289.80" y2="339.64" stroke="#151515" stroke-width="2.0"/><line x1="293.60" y1="337.49" x2="289.80" y2="337.49" stroke="#151515" stroke-width="2.0"/><line x1="293.60" y1="335.62" x2="289.80" y2="335.62" stroke="#151515" stroke-width="2.0"/><line x1="293.60" y1="333.97" x2="289.80" y2="333.97" stroke="#151515" stroke-width="2.0"/><line x1="293.60" y1="322.81" x2="289.80" y2="322.81" stroke="#151515" stroke-width="2.0"/><line x1="293.60" y1="317.14" x2="289.80" y2="317.14" stroke="#151515" stroke-width="2.0"/><line x1="293.60" y1="313.11" x2="289.80" y2="313.11" stroke="#151515" stroke-width="2.0"/><line x1="293.60" y1="309.99" x2="289.80" y2="309.99" stroke="#151515" stroke-width="2.0"/><line x1="293.60" y1="307.44" x2="289.80" y2="307.44" stroke="#151515" stroke-width="2.0"/><line x1="293.60" y1="305.29" x2="289.80" y2="305.29" stroke="#151515" stroke-width="2.0"/><line x1="293.60" y1="303.42" x2="289.80" y2="303.42" stroke="#151515" stroke-width="2.0"/><line x1="293.60" y1="301.77" x2="289.80" y2="301.77" stroke="#151515" stroke-width="2.0"/><line x1="293.60" y1="290.61" x2="289.80" y2="290.61" stroke="#151515" stroke-width="2.0"/><line x1="293.60" y1="284.94" x2="289.80" y2="284.94" stroke="#151515" stroke-width="2.0"/><line x1="293.60" y1="280.91" x2="289.80" y2="280.91" stroke="#151515" stroke-width="2.0"/><line x1="293.60" y1="277.79" x2="289.80" y2="277.79" stroke="#151515" stroke-width="2.0"/><line x1="293.60" y1="275.24" x2="289.80" y2="275.24" stroke="#151515" stroke-width="2.0"/><line x1="293.60" y1="273.09" x2="289.80" y2="273.09" stroke="#151515" stroke-width="2.0"/><line x1="293.60" y1="271.22" x2="289.80" y2="271.22" stroke="#151515" stroke-width="2.0"/><line x1="293.60" y1="269.57" x2="289.80" y2="269.57" stroke="#151515" stroke-width="2.0"/><line x1="293.60" y1="396.90" x2="287.20" y2="396.90" stroke="#151515" stroke-width="1.9"/><line x1="293.60" y1="364.70" x2="287.20" y2="364.70" stroke="#151515" stroke-width="1.9"/><line x1="293.60" y1="332.50" x2="287.20" y2="332.50" stroke="#151515" stroke-width="1.9"/><line x1="293.60" y1="300.30" x2="287.20" y2="300.30" stroke="#151515" stroke-width="1.9"/><line x1="293.60" y1="268.10" x2="287.20" y2="268.10" stroke="#151515" stroke-width="1.9"/><rect x="293.60" y="265.90" width="141.30" height="132.40" fill="none" stroke="#151515" stroke-width="1.8"/><line x1="337.80" y1="265.90" x2="337.80" y2="398.30" stroke="#151515" stroke-width="2.3"/><line x1="293.60" y1="343.70" x2="434.90" y2="343.70" stroke="#151515" stroke-width="2.0"/><text x="285.57" y="423.90" class="t">10<tspan font-size="10.6" dy="-5.0">0</tspan></text><text x="320.47" y="423.90" class="t">10<tspan font-size="10.6" dy="-5.0">1</tspan></text><text x="355.44" y="423.90" class="t">10<tspan font-size="10.6" dy="-5.0">2</tspan></text><text x="390.41" y="423.90" class="t">10<tspan font-size="10.6" dy="-5.0">3</tspan></text><text x="425.38" y="423.90" class="t">10<tspan font-size="10.6" dy="-5.0">4</tspan></text><text transform="translate(282.90,413.43) rotate(-90)" class="t">10<tspan font-size="10.6" dy="-5.0">0</tspan></text><text transform="translate(282.90,376.73) rotate(-90)" class="t">10<tspan font-size="10.6" dy="-5.0">1</tspan></text><text transform="translate(282.90,342.69) rotate(-90)" class="t">10<tspan font-size="10.6" dy="-5.0">2</tspan></text><text transform="translate(282.90,308.66) rotate(-90)" class="t">10<tspan font-size="10.6" dy="-5.0">3</tspan></text><text transform="translate(282.90,274.62) rotate(-90)" class="t">10<tspan font-size="10.6" dy="-5.0">4</tspan></text><text x="325.90" y="446.80" class="a" textLength="75.6" lengthAdjust="spacingAndGlyphs">FL1-Height</text><text transform="translate(255.40,367.30) rotate(-90)" class="a" textLength="74.2" lengthAdjust="spacingAndGlyphs">FL2-Height</text><line x1="540.50" y1="398.90" x2="540.50" y2="403.20" stroke="#151515" stroke-width="2.0"/><line x1="546.64" y1="398.90" x2="546.64" y2="403.20" stroke="#151515" stroke-width="2.0"/><line x1="551.00" y1="398.90" x2="551.00" y2="403.20" stroke="#151515" stroke-width="2.0"/><line x1="554.38" y1="398.90" x2="554.38" y2="403.20" stroke="#151515" stroke-width="2.0"/><line x1="557.14" y1="398.90" x2="557.14" y2="403.20" stroke="#151515" stroke-width="2.0"/><line x1="559.47" y1="398.90" x2="559.47" y2="403.20" stroke="#151515" stroke-width="2.0"/><line x1="561.50" y1="398.90" x2="561.50" y2="403.20" stroke="#151515" stroke-width="2.0"/><line x1="563.28" y1="398.90" x2="563.28" y2="403.20" stroke="#151515" stroke-width="2.0"/><line x1="575.37" y1="398.90" x2="575.37" y2="403.20" stroke="#151515" stroke-width="2.0"/><line x1="581.51" y1="398.90" x2="581.51" y2="403.20" stroke="#151515" stroke-width="2.0"/><line x1="585.87" y1="398.90" x2="585.87" y2="403.20" stroke="#151515" stroke-width="2.0"/><line x1="589.25" y1="398.90" x2="589.25" y2="403.20" stroke="#151515" stroke-width="2.0"/><line x1="592.01" y1="398.90" x2="592.01" y2="403.20" stroke="#151515" stroke-width="2.0"/><line x1="594.35" y1="398.90" x2="594.35" y2="403.20" stroke="#151515" stroke-width="2.0"/><line x1="596.37" y1="398.90" x2="596.37" y2="403.20" stroke="#151515" stroke-width="2.0"/><line x1="598.15" y1="398.90" x2="598.15" y2="403.20" stroke="#151515" stroke-width="2.0"/><line x1="610.25" y1="398.90" x2="610.25" y2="403.20" stroke="#151515" stroke-width="2.0"/><line x1="616.39" y1="398.90" x2="616.39" y2="403.20" stroke="#151515" stroke-width="2.0"/><line x1="620.75" y1="398.90" x2="620.75" y2="403.20" stroke="#151515" stroke-width="2.0"/><line x1="624.13" y1="398.90" x2="624.13" y2="403.20" stroke="#151515" stroke-width="2.0"/><line x1="626.89" y1="398.90" x2="626.89" y2="403.20" stroke="#151515" stroke-width="2.0"/><line x1="629.22" y1="398.90" x2="629.22" y2="403.20" stroke="#151515" stroke-width="2.0"/><line x1="631.25" y1="398.90" x2="631.25" y2="403.20" stroke="#151515" stroke-width="2.0"/><line x1="633.03" y1="398.90" x2="633.03" y2="403.20" stroke="#151515" stroke-width="2.0"/><line x1="645.12" y1="398.90" x2="645.12" y2="403.20" stroke="#151515" stroke-width="2.0"/><line x1="651.26" y1="398.90" x2="651.26" y2="403.20" stroke="#151515" stroke-width="2.0"/><line x1="655.62" y1="398.90" x2="655.62" y2="403.20" stroke="#151515" stroke-width="2.0"/><line x1="659.00" y1="398.90" x2="659.00" y2="403.20" stroke="#151515" stroke-width="2.0"/><line x1="661.76" y1="398.90" x2="661.76" y2="403.20" stroke="#151515" stroke-width="2.0"/><line x1="664.10" y1="398.90" x2="664.10" y2="403.20" stroke="#151515" stroke-width="2.0"/><line x1="666.12" y1="398.90" x2="666.12" y2="403.20" stroke="#151515" stroke-width="2.0"/><line x1="667.90" y1="398.90" x2="667.90" y2="403.20" stroke="#151515" stroke-width="2.0"/><line x1="530.00" y1="398.90" x2="530.00" y2="406.90" stroke="#151515" stroke-width="1.8"/><line x1="564.88" y1="398.90" x2="564.88" y2="406.90" stroke="#151515" stroke-width="1.8"/><line x1="599.75" y1="398.90" x2="599.75" y2="406.90" stroke="#151515" stroke-width="1.8"/><line x1="634.62" y1="398.90" x2="634.62" y2="406.90" stroke="#151515" stroke-width="1.8"/><line x1="669.50" y1="398.90" x2="669.50" y2="406.90" stroke="#151515" stroke-width="1.8"/><line x1="528.20" y1="387.89" x2="524.40" y2="387.89" stroke="#151515" stroke-width="2.0"/><line x1="528.20" y1="382.16" x2="524.40" y2="382.16" stroke="#151515" stroke-width="2.0"/><line x1="528.20" y1="378.09" x2="524.40" y2="378.09" stroke="#151515" stroke-width="2.0"/><line x1="528.20" y1="374.93" x2="524.40" y2="374.93" stroke="#151515" stroke-width="2.0"/><line x1="528.20" y1="372.35" x2="524.40" y2="372.35" stroke="#151515" stroke-width="2.0"/><line x1="528.20" y1="370.17" x2="524.40" y2="370.17" stroke="#151515" stroke-width="2.0"/><line x1="528.20" y1="368.28" x2="524.40" y2="368.28" stroke="#151515" stroke-width="2.0"/><line x1="528.20" y1="366.62" x2="524.40" y2="366.62" stroke="#151515" stroke-width="2.0"/><line x1="528.20" y1="355.32" x2="524.40" y2="355.32" stroke="#151515" stroke-width="2.0"/><line x1="528.20" y1="349.58" x2="524.40" y2="349.58" stroke="#151515" stroke-width="2.0"/><line x1="528.20" y1="345.51" x2="524.40" y2="345.51" stroke="#151515" stroke-width="2.0"/><line x1="528.20" y1="342.36" x2="524.40" y2="342.36" stroke="#151515" stroke-width="2.0"/><line x1="528.20" y1="339.78" x2="524.40" y2="339.78" stroke="#151515" stroke-width="2.0"/><line x1="528.20" y1="337.60" x2="524.40" y2="337.60" stroke="#151515" stroke-width="2.0"/><line x1="528.20" y1="335.71" x2="524.40" y2="335.71" stroke="#151515" stroke-width="2.0"/><line x1="528.20" y1="334.04" x2="524.40" y2="334.04" stroke="#151515" stroke-width="2.0"/><line x1="528.20" y1="322.74" x2="524.40" y2="322.74" stroke="#151515" stroke-width="2.0"/><line x1="528.20" y1="317.01" x2="524.40" y2="317.01" stroke="#151515" stroke-width="2.0"/><line x1="528.20" y1="312.94" x2="524.40" y2="312.94" stroke="#151515" stroke-width="2.0"/><line x1="528.20" y1="309.78" x2="524.40" y2="309.78" stroke="#151515" stroke-width="2.0"/><line x1="528.20" y1="307.20" x2="524.40" y2="307.20" stroke="#151515" stroke-width="2.0"/><line x1="528.20" y1="305.02" x2="524.40" y2="305.02" stroke="#151515" stroke-width="2.0"/><line x1="528.20" y1="303.13" x2="524.40" y2="303.13" stroke="#151515" stroke-width="2.0"/><line x1="528.20" y1="301.47" x2="524.40" y2="301.47" stroke="#151515" stroke-width="2.0"/><line x1="528.20" y1="290.17" x2="524.40" y2="290.17" stroke="#151515" stroke-width="2.0"/><line x1="528.20" y1="284.43" x2="524.40" y2="284.43" stroke="#151515" stroke-width="2.0"/><line x1="528.20" y1="280.36" x2="524.40" y2="280.36" stroke="#151515" stroke-width="2.0"/><line x1="528.20" y1="277.21" x2="524.40" y2="277.21" stroke="#151515" stroke-width="2.0"/><line x1="528.20" y1="274.63" x2="524.40" y2="274.63" stroke="#151515" stroke-width="2.0"/><line x1="528.20" y1="272.45" x2="524.40" y2="272.45" stroke="#151515" stroke-width="2.0"/><line x1="528.20" y1="270.56" x2="524.40" y2="270.56" stroke="#151515" stroke-width="2.0"/><line x1="528.20" y1="268.89" x2="524.40" y2="268.89" stroke="#151515" stroke-width="2.0"/><line x1="528.20" y1="397.70" x2="521.80" y2="397.70" stroke="#151515" stroke-width="1.9"/><line x1="528.20" y1="365.12" x2="521.80" y2="365.12" stroke="#151515" stroke-width="1.9"/><line x1="528.20" y1="332.55" x2="521.80" y2="332.55" stroke="#151515" stroke-width="1.9"/><line x1="528.20" y1="299.97" x2="521.80" y2="299.97" stroke="#151515" stroke-width="1.9"/><line x1="528.20" y1="267.40" x2="521.80" y2="267.40" stroke="#151515" stroke-width="1.9"/><rect x="528.20" y="266.10" width="142.10" height="132.80" fill="none" stroke="#151515" stroke-width="1.8"/><line x1="572.60" y1="266.10" x2="572.60" y2="398.90" stroke="#151515" stroke-width="2.5"/><line x1="528.20" y1="344.80" x2="670.30" y2="344.80" stroke="#151515" stroke-width="2.0"/><text x="522.27" y="424.30" class="t">10<tspan font-size="10.6" dy="-5.0">0</tspan></text><text x="560.67" y="424.30" class="t">10<tspan font-size="10.6" dy="-5.0">1</tspan></text><text x="594.21" y="424.30" class="t">10<tspan font-size="10.6" dy="-5.0">2</tspan></text><text x="627.74" y="424.30" class="t">10<tspan font-size="10.6" dy="-5.0">3</tspan></text><text x="661.27" y="424.30" class="t">10<tspan font-size="10.6" dy="-5.0">4</tspan></text><text transform="translate(516.40,413.43) rotate(-90)" class="t">10<tspan font-size="10.6" dy="-5.0">0</tspan></text><text transform="translate(516.40,376.43) rotate(-90)" class="t">10<tspan font-size="10.6" dy="-5.0">1</tspan></text><text transform="translate(516.40,342.49) rotate(-90)" class="t">10<tspan font-size="10.6" dy="-5.0">2</tspan></text><text transform="translate(516.40,308.56) rotate(-90)" class="t">10<tspan font-size="10.6" dy="-5.0">3</tspan></text><text transform="translate(516.40,274.62) rotate(-90)" class="t">10<tspan font-size="10.6" dy="-5.0">4</tspan></text><text x="563.10" y="446.40" class="a" textLength="75.6" lengthAdjust="spacingAndGlyphs">FL1-Height</text><text transform="translate(489.60,367.30) rotate(-90)" class="a" textLength="74.2" lengthAdjust="spacingAndGlyphs">FL2-Height</text><text x="89.0" y="18.5" class="h" textLength="71.1" lengthAdjust="spacingAndGlyphs">pcDNA3</text><text x="291.0" y="16.2" class="h" textLength="137.8" lengthAdjust="spacingAndGlyphs">pcDNA3/hSR-BI</text><text x="526.1" y="16.4" class="h" textLength="147.6" lengthAdjust="spacingAndGlyphs">pcDNA3/ mSR-BI</text><text x="1.7" y="19.1" class="L">A</text><text x="2.7" y="250.4" class="L">B</text></g></svg></body></html>
